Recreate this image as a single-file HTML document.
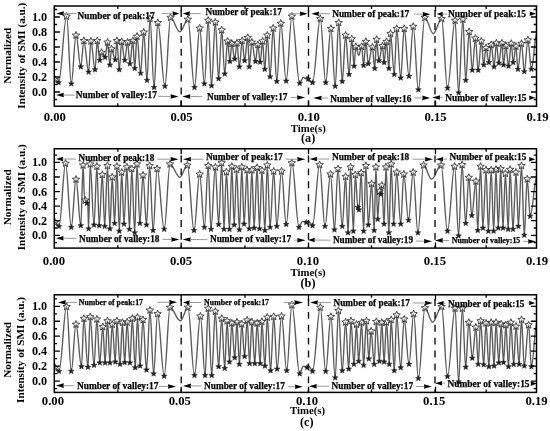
<!DOCTYPE html>
<html><head><meta charset="utf-8"><title>SMI peaks and valleys</title>
<style>
html,body{margin:0;padding:0;background:#fff;}
body{width:550px;height:431px;overflow:hidden;}
svg{display:block;}
text{font-family:'Liberation Serif','Times New Roman',serif;font-weight:bold;fill:#000;}
.tl{font-size:12.2px;}
.xt{font-size:12.7px;}
.tt{font-size:10.8px;}
.yl{font-size:11.2px;}
.an{stroke:#000;stroke-width:0.25px;}
</style></head><body>
<svg width="550" height="431" viewBox="0 0 550 431">
<rect width="550" height="431" fill="#fff"/>
<clipPath id="clipa"><rect x="54.3" y="6" width="482.2" height="100.2"/></clipPath>
<g clip-path="url(#clipa)">
<path d="M55,79.8C56.31,79.8 57.29,82.6 58.6,82.6C61.51,82.6 63.69,16.4 66.6,16.4C68.31,16.4 69.59,83.8 71.3,83.8C73.01,83.8 74.29,35.4 76,35.4C77.75,35.4 79.05,66.8 80.8,66.8C81.93,66.8 82.77,40.8 83.9,40.8C85.61,40.8 86.89,72 88.6,72C89.44,72 90.06,41.3 90.9,41.3C92.39,41.3 93.51,69.6 95,69.6C95.84,69.6 96.46,40.8 97.3,40.8C98.17,40.8 98.83,60.2 99.7,60.2C100.39,60.2 100.91,52.6 101.6,52.6C102.87,52.6 103.83,57.3 105.1,57.3C105.97,57.3 106.63,42.4 107.5,42.4C108.37,42.4 109.03,64.9 109.9,64.9C110.48,64.9 110.92,49.1 111.5,49.1C112.88,49.1 113.92,59.7 115.3,59.7C115.88,59.7 116.32,40.8 116.9,40.8C117.77,40.8 118.43,69.6 119.3,69.6C120.17,69.6 120.83,41.8 121.7,41.8C122.79,41.8 123.61,60.2 124.7,60.2C125.76,60.2 126.54,42.4 127.6,42.4C128.44,42.4 129.06,63.7 129.9,63.7C130.96,63.7 131.74,40.8 132.8,40.8C133.49,40.8 134.01,68.4 134.7,68.4C135.54,68.4 136.16,36.5 137,36.5C138.31,36.5 139.29,73.2 140.6,73.2C141.73,73.2 142.57,32.3 143.7,32.3C144.9,32.3 145.8,80.3 147,80.3C148.09,80.3 148.91,18.8 150,18.8C151.49,18.8 152.61,87.4 154.1,87.4C155.45,87.4 156.45,22.8 157.8,22.8C160.39,22.8 162.31,86.2 164.9,86.2C166.98,86.2 168.52,17.6 170.6,17.6C173.95,17.6 176.45,31.8 179.8,31.8C182.75,31.8 184.95,19.5 187.9,19.5C190.3,19.5 192.1,87.4 194.5,87.4C196.39,87.4 197.81,28.3 199.7,28.3C201.41,28.3 202.69,83.8 204.4,83.8C205.78,83.8 206.82,20.5 208.2,20.5C209.4,20.5 210.3,85.7 211.5,85.7C212.88,85.7 213.92,22.3 215.3,22.3C216.5,22.3 217.4,78.6 218.6,78.6C219.73,78.6 220.57,30.1 221.7,30.1C222.79,30.1 223.61,73.9 224.7,73.9C225.76,73.9 226.54,41.3 227.6,41.3C228.44,41.3 229.06,61.4 229.9,61.4C230.59,61.4 231.11,43.6 231.8,43.6C232.86,43.6 233.64,59 234.7,59C235.54,59 236.16,43.2 237,43.2C237.87,43.2 238.53,66.8 239.4,66.8C240.42,66.8 241.18,40.8 242.2,40.8C243.07,40.8 243.73,60.6 244.6,60.6C245.73,60.6 246.57,37.7 247.7,37.7C248.28,37.7 248.72,66.8 249.3,66.8C250.25,66.8 250.95,42.4 251.9,42.4C253.21,42.4 254.19,61.4 255.5,61.4C256.34,61.4 256.96,44.8 257.8,44.8C258.67,44.8 259.33,62.1 260.2,62.1C261.07,62.1 261.73,41.3 262.6,41.3C263.36,41.3 263.94,69.2 264.7,69.2C265.65,69.2 266.35,35.4 267.3,35.4C268.32,35.4 269.08,76.7 270.1,76.7C271.23,76.7 272.07,28.3 273.2,28.3C274.51,28.3 275.49,81.4 276.8,81.4C278.26,81.4 279.34,23.5 280.8,23.5C282.77,23.5 284.23,81 286.2,81C288.28,81 289.82,16.4 291.9,16.4C294.74,16.4 296.86,83.3 299.7,83.3C301.05,83.3 302.05,77.1 303.4,77.1C304.09,77.1 304.61,78.8 305.3,78.8C305.92,78.8 306.38,76.8 307,76.8C307.44,76.8 307.76,79 308.2,79C309.77,79 310.93,82.6 312.5,82.6C315.34,82.6 317.46,18.8 320.3,18.8C322.27,18.8 323.73,82.6 325.7,82.6C327.59,82.6 329.01,28.7 330.9,28.7C332.47,28.7 333.63,86.2 335.2,86.2C336.47,86.2 337.43,22.8 338.7,22.8C340.01,22.8 340.99,81.4 342.3,81.4C343.5,81.4 344.4,35.4 345.6,35.4C346.87,35.4 347.83,74.4 349.1,74.4C350.05,74.4 350.75,38.9 351.7,38.9C352.57,38.9 353.23,66.1 354.1,66.1C354.72,66.1 355.18,46.7 355.8,46.7C356.89,46.7 357.71,55.3 358.8,55.3C359.86,55.3 360.64,46.5 361.7,46.5C362.39,46.5 362.91,65.4 363.6,65.4C364.44,65.4 365.06,41.7 365.9,41.7C366.77,41.7 367.43,63.7 368.3,63.7C369.76,63.7 370.84,47.2 372.3,47.2C373.17,47.2 373.83,68.4 374.7,68.4C375.39,68.4 375.91,39.6 376.6,39.6C377.44,39.6 378.06,60.6 378.9,60.6C380.21,60.6 381.19,46 382.5,46C383.08,46 383.52,62.5 384.1,62.5C384.97,62.5 385.63,41.7 386.5,41.7C387.37,41.7 388.03,68.4 388.9,68.4C389.48,68.4 389.92,33.7 390.5,33.7C391.88,33.7 392.92,74.4 394.3,74.4C395.17,74.4 395.83,28.7 396.7,28.7C398.16,28.7 399.24,77.9 400.7,77.9C401.97,77.9 402.93,28.7 404.2,28.7C405.95,28.7 407.25,76.2 409,76.2C410.53,76.2 411.67,26.6 413.2,26.6C415.09,26.6 416.51,89.7 418.4,89.7C420.73,89.7 422.47,17.6 424.8,17.6C427.9,17.6 430.2,33.7 433.3,33.7C436.32,33.7 438.58,18.8 441.6,18.8C443.75,18.8 445.35,88.1 447.5,88.1C450.27,88.1 452.33,20.5 455.1,20.5C456.37,20.5 457.33,92.8 458.6,92.8C460.17,92.8 461.33,19.5 462.9,19.5C463.92,19.5 464.68,80.3 465.7,80.3C466.97,80.3 467.93,31.8 469.2,31.8C470.33,31.8 471.17,70.1 472.3,70.1C473.43,70.1 474.27,38.4 475.4,38.4C476.42,38.4 477.18,70.1 478.2,70.1C479.33,70.1 480.17,41.3 481.3,41.3C482.17,41.3 482.83,64.9 483.7,64.9C484.54,64.9 485.16,47.9 486,47.9C487.06,47.9 487.84,62.5 488.9,62.5C489.74,62.5 490.36,44.8 491.2,44.8C492.26,44.8 493.04,66.8 494.1,66.8C494.94,66.8 495.56,43.2 496.4,43.2C497.27,43.2 497.93,63 498.8,63C499.93,63 500.77,43.2 501.9,43.2C502.48,43.2 502.92,64.9 503.5,64.9C504.37,64.9 505.03,46 505.9,46C506.85,46 507.55,66.1 508.5,66.1C509.52,66.1 510.28,43.6 511.3,43.6C511.99,43.6 512.51,62.5 513.2,62.5C514.22,62.5 514.98,46.5 516,46.5C516.69,46.5 517.21,69.2 517.9,69.2C519.21,69.2 520.19,43.6 521.5,43.6C522.52,43.6 523.28,71.5 524.3,71.5C525.61,71.5 526.59,40.1 527.9,40.1C529.17,40.1 530.13,69.2 531.4,69.2C533.37,69.2 534.83,32.8 536.8,32.8" fill="none" stroke="#5c5c5c" stroke-width="1.4"/>
<line x1="181.2" y1="6" x2="181.2" y2="106.2" stroke="#111" stroke-width="1.4" stroke-dasharray="6.9 6" stroke-dashoffset="8.8"/>
<line x1="308.5" y1="6" x2="308.5" y2="106.2" stroke="#111" stroke-width="1.4" stroke-dasharray="6.9 6" stroke-dashoffset="8.8"/>
<line x1="435" y1="6" x2="435" y2="106.2" stroke="#111" stroke-width="1.4" stroke-dasharray="6.9 6" stroke-dashoffset="8.8"/>
<path d="M55,75.9 L56,78.42 L58.71,78.59 L56.62,80.33 L57.29,82.96 L55,81.5 L52.71,82.96 L53.38,80.33 L51.29,78.59 L54,78.42ZM66.6,12.5 L67.6,15.02 L70.31,15.19 L68.22,16.93 L68.89,19.56 L66.6,18.1 L64.31,19.56 L64.98,16.93 L62.89,15.19 L65.6,15.02ZM76,31.5 L77,34.02 L79.71,34.19 L77.62,35.93 L78.29,38.56 L76,37.1 L73.71,38.56 L74.38,35.93 L72.29,34.19 L75,34.02ZM83.9,36.9 L84.9,39.42 L87.61,39.59 L85.52,41.33 L86.19,43.96 L83.9,42.5 L81.61,43.96 L82.28,41.33 L80.19,39.59 L82.9,39.42ZM90.9,37.4 L91.9,39.92 L94.61,40.09 L92.52,41.83 L93.19,44.46 L90.9,43 L88.61,44.46 L89.28,41.83 L87.19,40.09 L89.9,39.92ZM97.3,36.9 L98.3,39.42 L101.01,39.59 L98.92,41.33 L99.59,43.96 L97.3,42.5 L95.01,43.96 L95.68,41.33 L93.59,39.59 L96.3,39.42ZM101.6,48.7 L102.6,51.22 L105.31,51.39 L103.22,53.13 L103.89,55.76 L101.6,54.3 L99.31,55.76 L99.98,53.13 L97.89,51.39 L100.6,51.22ZM107.5,38.5 L108.5,41.02 L111.21,41.19 L109.12,42.93 L109.79,45.56 L107.5,44.1 L105.21,45.56 L105.88,42.93 L103.79,41.19 L106.5,41.02ZM111.5,45.2 L112.5,47.72 L115.21,47.89 L113.12,49.63 L113.79,52.26 L111.5,50.8 L109.21,52.26 L109.88,49.63 L107.79,47.89 L110.5,47.72ZM116.9,36.9 L117.9,39.42 L120.61,39.59 L118.52,41.33 L119.19,43.96 L116.9,42.5 L114.61,43.96 L115.28,41.33 L113.19,39.59 L115.9,39.42ZM121.7,37.9 L122.7,40.42 L125.41,40.59 L123.32,42.33 L123.99,44.96 L121.7,43.5 L119.41,44.96 L120.08,42.33 L117.99,40.59 L120.7,40.42ZM127.6,38.5 L128.6,41.02 L131.31,41.19 L129.22,42.93 L129.89,45.56 L127.6,44.1 L125.31,45.56 L125.98,42.93 L123.89,41.19 L126.6,41.02ZM132.8,36.9 L133.8,39.42 L136.51,39.59 L134.42,41.33 L135.09,43.96 L132.8,42.5 L130.51,43.96 L131.18,41.33 L129.09,39.59 L131.8,39.42ZM137,32.6 L138,35.12 L140.71,35.29 L138.62,37.03 L139.29,39.66 L137,38.2 L134.71,39.66 L135.38,37.03 L133.29,35.29 L136,35.12ZM143.7,28.4 L144.7,30.92 L147.41,31.09 L145.32,32.83 L145.99,35.46 L143.7,34 L141.41,35.46 L142.08,32.83 L139.99,31.09 L142.7,30.92ZM150,14.9 L151,17.42 L153.71,17.59 L151.62,19.33 L152.29,21.96 L150,20.5 L147.71,21.96 L148.38,19.33 L146.29,17.59 L149,17.42ZM157.8,18.9 L158.8,21.42 L161.51,21.59 L159.42,23.33 L160.09,25.96 L157.8,24.5 L155.51,25.96 L156.18,23.33 L154.09,21.59 L156.8,21.42ZM170.6,13.7 L171.6,16.22 L174.31,16.39 L172.22,18.13 L172.89,20.76 L170.6,19.3 L168.31,20.76 L168.98,18.13 L166.89,16.39 L169.6,16.22ZM187.9,15.6 L188.9,18.12 L191.61,18.29 L189.52,20.03 L190.19,22.66 L187.9,21.2 L185.61,22.66 L186.28,20.03 L184.19,18.29 L186.9,18.12ZM199.7,24.4 L200.7,26.92 L203.41,27.09 L201.32,28.83 L201.99,31.46 L199.7,30 L197.41,31.46 L198.08,28.83 L195.99,27.09 L198.7,26.92ZM208.2,16.6 L209.2,19.12 L211.91,19.29 L209.82,21.03 L210.49,23.66 L208.2,22.2 L205.91,23.66 L206.58,21.03 L204.49,19.29 L207.2,19.12ZM215.3,18.4 L216.3,20.92 L219.01,21.09 L216.92,22.83 L217.59,25.46 L215.3,24 L213.01,25.46 L213.68,22.83 L211.59,21.09 L214.3,20.92ZM221.7,26.2 L222.7,28.72 L225.41,28.89 L223.32,30.63 L223.99,33.26 L221.7,31.8 L219.41,33.26 L220.08,30.63 L217.99,28.89 L220.7,28.72ZM227.6,37.4 L228.6,39.92 L231.31,40.09 L229.22,41.83 L229.89,44.46 L227.6,43 L225.31,44.46 L225.98,41.83 L223.89,40.09 L226.6,39.92ZM231.8,39.7 L232.8,42.22 L235.51,42.39 L233.42,44.13 L234.09,46.76 L231.8,45.3 L229.51,46.76 L230.18,44.13 L228.09,42.39 L230.8,42.22ZM237,39.3 L238,41.82 L240.71,41.99 L238.62,43.73 L239.29,46.36 L237,44.9 L234.71,46.36 L235.38,43.73 L233.29,41.99 L236,41.82ZM242.2,36.9 L243.2,39.42 L245.91,39.59 L243.82,41.33 L244.49,43.96 L242.2,42.5 L239.91,43.96 L240.58,41.33 L238.49,39.59 L241.2,39.42ZM247.7,33.8 L248.7,36.32 L251.41,36.49 L249.32,38.23 L249.99,40.86 L247.7,39.4 L245.41,40.86 L246.08,38.23 L243.99,36.49 L246.7,36.32ZM251.9,38.5 L252.9,41.02 L255.61,41.19 L253.52,42.93 L254.19,45.56 L251.9,44.1 L249.61,45.56 L250.28,42.93 L248.19,41.19 L250.9,41.02ZM257.8,40.9 L258.8,43.42 L261.51,43.59 L259.42,45.33 L260.09,47.96 L257.8,46.5 L255.51,47.96 L256.18,45.33 L254.09,43.59 L256.8,43.42ZM262.6,37.4 L263.6,39.92 L266.31,40.09 L264.22,41.83 L264.89,44.46 L262.6,43 L260.31,44.46 L260.98,41.83 L258.89,40.09 L261.6,39.92ZM267.3,31.5 L268.3,34.02 L271.01,34.19 L268.92,35.93 L269.59,38.56 L267.3,37.1 L265.01,38.56 L265.68,35.93 L263.59,34.19 L266.3,34.02ZM273.2,24.4 L274.2,26.92 L276.91,27.09 L274.82,28.83 L275.49,31.46 L273.2,30 L270.91,31.46 L271.58,28.83 L269.49,27.09 L272.2,26.92ZM280.8,19.6 L281.8,22.12 L284.51,22.29 L282.42,24.03 L283.09,26.66 L280.8,25.2 L278.51,26.66 L279.18,24.03 L277.09,22.29 L279.8,22.12ZM291.9,12.5 L292.9,15.02 L295.61,15.19 L293.52,16.93 L294.19,19.56 L291.9,18.1 L289.61,19.56 L290.28,16.93 L288.19,15.19 L290.9,15.02ZM320.3,14.9 L321.3,17.42 L324.01,17.59 L321.92,19.33 L322.59,21.96 L320.3,20.5 L318.01,21.96 L318.68,19.33 L316.59,17.59 L319.3,17.42ZM330.9,24.8 L331.9,27.32 L334.61,27.49 L332.52,29.23 L333.19,31.86 L330.9,30.4 L328.61,31.86 L329.28,29.23 L327.19,27.49 L329.9,27.32ZM338.7,18.9 L339.7,21.42 L342.41,21.59 L340.32,23.33 L340.99,25.96 L338.7,24.5 L336.41,25.96 L337.08,23.33 L334.99,21.59 L337.7,21.42ZM345.6,31.5 L346.6,34.02 L349.31,34.19 L347.22,35.93 L347.89,38.56 L345.6,37.1 L343.31,38.56 L343.98,35.93 L341.89,34.19 L344.6,34.02ZM351.7,35 L352.7,37.52 L355.41,37.69 L353.32,39.43 L353.99,42.06 L351.7,40.6 L349.41,42.06 L350.08,39.43 L347.99,37.69 L350.7,37.52ZM355.8,42.8 L356.8,45.32 L359.51,45.49 L357.42,47.23 L358.09,49.86 L355.8,48.4 L353.51,49.86 L354.18,47.23 L352.09,45.49 L354.8,45.32ZM361.7,42.6 L362.7,45.12 L365.41,45.29 L363.32,47.03 L363.99,49.66 L361.7,48.2 L359.41,49.66 L360.08,47.03 L357.99,45.29 L360.7,45.12ZM365.9,37.8 L366.9,40.32 L369.61,40.49 L367.52,42.23 L368.19,44.86 L365.9,43.4 L363.61,44.86 L364.28,42.23 L362.19,40.49 L364.9,40.32ZM372.3,43.3 L373.3,45.82 L376.01,45.99 L373.92,47.73 L374.59,50.36 L372.3,48.9 L370.01,50.36 L370.68,47.73 L368.59,45.99 L371.3,45.82ZM376.6,35.7 L377.6,38.22 L380.31,38.39 L378.22,40.13 L378.89,42.76 L376.6,41.3 L374.31,42.76 L374.98,40.13 L372.89,38.39 L375.6,38.22ZM382.5,42.1 L383.5,44.62 L386.21,44.79 L384.12,46.53 L384.79,49.16 L382.5,47.7 L380.21,49.16 L380.88,46.53 L378.79,44.79 L381.5,44.62ZM386.5,37.8 L387.5,40.32 L390.21,40.49 L388.12,42.23 L388.79,44.86 L386.5,43.4 L384.21,44.86 L384.88,42.23 L382.79,40.49 L385.5,40.32ZM390.5,29.8 L391.5,32.32 L394.21,32.49 L392.12,34.23 L392.79,36.86 L390.5,35.4 L388.21,36.86 L388.88,34.23 L386.79,32.49 L389.5,32.32ZM396.7,24.8 L397.7,27.32 L400.41,27.49 L398.32,29.23 L398.99,31.86 L396.7,30.4 L394.41,31.86 L395.08,29.23 L392.99,27.49 L395.7,27.32ZM404.2,24.8 L405.2,27.32 L407.91,27.49 L405.82,29.23 L406.49,31.86 L404.2,30.4 L401.91,31.86 L402.58,29.23 L400.49,27.49 L403.2,27.32ZM413.2,22.7 L414.2,25.22 L416.91,25.39 L414.82,27.13 L415.49,29.76 L413.2,28.3 L410.91,29.76 L411.58,27.13 L409.49,25.39 L412.2,25.22ZM424.8,13.7 L425.8,16.22 L428.51,16.39 L426.42,18.13 L427.09,20.76 L424.8,19.3 L422.51,20.76 L423.18,18.13 L421.09,16.39 L423.8,16.22ZM441.6,14.9 L442.6,17.42 L445.31,17.59 L443.22,19.33 L443.89,21.96 L441.6,20.5 L439.31,21.96 L439.98,19.33 L437.89,17.59 L440.6,17.42ZM455.1,16.6 L456.1,19.12 L458.81,19.29 L456.72,21.03 L457.39,23.66 L455.1,22.2 L452.81,23.66 L453.48,21.03 L451.39,19.29 L454.1,19.12ZM462.9,15.6 L463.9,18.12 L466.61,18.29 L464.52,20.03 L465.19,22.66 L462.9,21.2 L460.61,22.66 L461.28,20.03 L459.19,18.29 L461.9,18.12ZM469.2,27.9 L470.2,30.42 L472.91,30.59 L470.82,32.33 L471.49,34.96 L469.2,33.5 L466.91,34.96 L467.58,32.33 L465.49,30.59 L468.2,30.42ZM475.4,34.5 L476.4,37.02 L479.11,37.19 L477.02,38.93 L477.69,41.56 L475.4,40.1 L473.11,41.56 L473.78,38.93 L471.69,37.19 L474.4,37.02ZM481.3,37.4 L482.3,39.92 L485.01,40.09 L482.92,41.83 L483.59,44.46 L481.3,43 L479.01,44.46 L479.68,41.83 L477.59,40.09 L480.3,39.92ZM486,44 L487,46.52 L489.71,46.69 L487.62,48.43 L488.29,51.06 L486,49.6 L483.71,51.06 L484.38,48.43 L482.29,46.69 L485,46.52ZM491.2,40.9 L492.2,43.42 L494.91,43.59 L492.82,45.33 L493.49,47.96 L491.2,46.5 L488.91,47.96 L489.58,45.33 L487.49,43.59 L490.2,43.42ZM496.4,39.3 L497.4,41.82 L500.11,41.99 L498.02,43.73 L498.69,46.36 L496.4,44.9 L494.11,46.36 L494.78,43.73 L492.69,41.99 L495.4,41.82ZM501.9,39.3 L502.9,41.82 L505.61,41.99 L503.52,43.73 L504.19,46.36 L501.9,44.9 L499.61,46.36 L500.28,43.73 L498.19,41.99 L500.9,41.82ZM505.9,42.1 L506.9,44.62 L509.61,44.79 L507.52,46.53 L508.19,49.16 L505.9,47.7 L503.61,49.16 L504.28,46.53 L502.19,44.79 L504.9,44.62ZM511.3,39.7 L512.3,42.22 L515.01,42.39 L512.92,44.13 L513.59,46.76 L511.3,45.3 L509.01,46.76 L509.68,44.13 L507.59,42.39 L510.3,42.22ZM516,42.6 L517,45.12 L519.71,45.29 L517.62,47.03 L518.29,49.66 L516,48.2 L513.71,49.66 L514.38,47.03 L512.29,45.29 L515,45.12ZM521.5,39.7 L522.5,42.22 L525.21,42.39 L523.12,44.13 L523.79,46.76 L521.5,45.3 L519.21,46.76 L519.88,44.13 L517.79,42.39 L520.5,42.22ZM527.9,36.2 L528.9,38.72 L531.61,38.89 L529.52,40.63 L530.19,43.26 L527.9,41.8 L525.61,43.26 L526.28,40.63 L524.19,38.89 L526.9,38.72Z" fill="#fff" fill-opacity="0.15" stroke="#333" stroke-width="0.9"/>
<path d="M58.6,79.6 L59.36,81.55 L61.45,81.67 L59.84,83 L60.36,85.03 L58.6,83.9 L56.84,85.03 L57.36,83 L55.75,81.67 L57.84,81.55ZM71.3,80.8 L72.06,82.75 L74.15,82.87 L72.54,84.2 L73.06,86.23 L71.3,85.1 L69.54,86.23 L70.06,84.2 L68.45,82.87 L70.54,82.75ZM80.8,63.8 L81.56,65.75 L83.65,65.87 L82.04,67.2 L82.56,69.23 L80.8,68.1 L79.04,69.23 L79.56,67.2 L77.95,65.87 L80.04,65.75ZM88.6,69 L89.36,70.95 L91.45,71.07 L89.84,72.4 L90.36,74.43 L88.6,73.3 L86.84,74.43 L87.36,72.4 L85.75,71.07 L87.84,70.95ZM95,66.6 L95.76,68.55 L97.85,68.67 L96.24,70 L96.76,72.03 L95,70.9 L93.24,72.03 L93.76,70 L92.15,68.67 L94.24,68.55ZM99.7,57.2 L100.46,59.15 L102.55,59.27 L100.94,60.6 L101.46,62.63 L99.7,61.5 L97.94,62.63 L98.46,60.6 L96.85,59.27 L98.94,59.15ZM105.1,54.3 L105.86,56.25 L107.95,56.37 L106.34,57.7 L106.86,59.73 L105.1,58.6 L103.34,59.73 L103.86,57.7 L102.25,56.37 L104.34,56.25ZM109.9,61.9 L110.66,63.85 L112.75,63.97 L111.14,65.3 L111.66,67.33 L109.9,66.2 L108.14,67.33 L108.66,65.3 L107.05,63.97 L109.14,63.85ZM115.3,56.7 L116.06,58.65 L118.15,58.77 L116.54,60.1 L117.06,62.13 L115.3,61 L113.54,62.13 L114.06,60.1 L112.45,58.77 L114.54,58.65ZM119.3,66.6 L120.06,68.55 L122.15,68.67 L120.54,70 L121.06,72.03 L119.3,70.9 L117.54,72.03 L118.06,70 L116.45,68.67 L118.54,68.55ZM124.7,57.2 L125.46,59.15 L127.55,59.27 L125.94,60.6 L126.46,62.63 L124.7,61.5 L122.94,62.63 L123.46,60.6 L121.85,59.27 L123.94,59.15ZM129.9,60.7 L130.66,62.65 L132.75,62.77 L131.14,64.1 L131.66,66.13 L129.9,65 L128.14,66.13 L128.66,64.1 L127.05,62.77 L129.14,62.65ZM134.7,65.4 L135.46,67.35 L137.55,67.47 L135.94,68.8 L136.46,70.83 L134.7,69.7 L132.94,70.83 L133.46,68.8 L131.85,67.47 L133.94,67.35ZM140.6,70.2 L141.36,72.15 L143.45,72.27 L141.84,73.6 L142.36,75.63 L140.6,74.5 L138.84,75.63 L139.36,73.6 L137.75,72.27 L139.84,72.15ZM147,77.3 L147.76,79.25 L149.85,79.37 L148.24,80.7 L148.76,82.73 L147,81.6 L145.24,82.73 L145.76,80.7 L144.15,79.37 L146.24,79.25ZM154.1,84.4 L154.86,86.35 L156.95,86.47 L155.34,87.8 L155.86,89.83 L154.1,88.7 L152.34,89.83 L152.86,87.8 L151.25,86.47 L153.34,86.35ZM164.9,83.2 L165.66,85.15 L167.75,85.27 L166.14,86.6 L166.66,88.63 L164.9,87.5 L163.14,88.63 L163.66,86.6 L162.05,85.27 L164.14,85.15ZM194.5,84.4 L195.26,86.35 L197.35,86.47 L195.74,87.8 L196.26,89.83 L194.5,88.7 L192.74,89.83 L193.26,87.8 L191.65,86.47 L193.74,86.35ZM204.4,80.8 L205.16,82.75 L207.25,82.87 L205.64,84.2 L206.16,86.23 L204.4,85.1 L202.64,86.23 L203.16,84.2 L201.55,82.87 L203.64,82.75ZM211.5,82.7 L212.26,84.65 L214.35,84.77 L212.74,86.1 L213.26,88.13 L211.5,87 L209.74,88.13 L210.26,86.1 L208.65,84.77 L210.74,84.65ZM218.6,75.6 L219.36,77.55 L221.45,77.67 L219.84,79 L220.36,81.03 L218.6,79.9 L216.84,81.03 L217.36,79 L215.75,77.67 L217.84,77.55ZM224.7,70.9 L225.46,72.85 L227.55,72.97 L225.94,74.3 L226.46,76.33 L224.7,75.2 L222.94,76.33 L223.46,74.3 L221.85,72.97 L223.94,72.85ZM229.9,58.4 L230.66,60.35 L232.75,60.47 L231.14,61.8 L231.66,63.83 L229.9,62.7 L228.14,63.83 L228.66,61.8 L227.05,60.47 L229.14,60.35ZM234.7,56 L235.46,57.95 L237.55,58.07 L235.94,59.4 L236.46,61.43 L234.7,60.3 L232.94,61.43 L233.46,59.4 L231.85,58.07 L233.94,57.95ZM239.4,63.8 L240.16,65.75 L242.25,65.87 L240.64,67.2 L241.16,69.23 L239.4,68.1 L237.64,69.23 L238.16,67.2 L236.55,65.87 L238.64,65.75ZM244.6,57.6 L245.36,59.55 L247.45,59.67 L245.84,61 L246.36,63.03 L244.6,61.9 L242.84,63.03 L243.36,61 L241.75,59.67 L243.84,59.55ZM249.3,63.8 L250.06,65.75 L252.15,65.87 L250.54,67.2 L251.06,69.23 L249.3,68.1 L247.54,69.23 L248.06,67.2 L246.45,65.87 L248.54,65.75ZM255.5,58.4 L256.26,60.35 L258.35,60.47 L256.74,61.8 L257.26,63.83 L255.5,62.7 L253.74,63.83 L254.26,61.8 L252.65,60.47 L254.74,60.35ZM260.2,59.1 L260.96,61.05 L263.05,61.17 L261.44,62.5 L261.96,64.53 L260.2,63.4 L258.44,64.53 L258.96,62.5 L257.35,61.17 L259.44,61.05ZM264.7,66.2 L265.46,68.15 L267.55,68.27 L265.94,69.6 L266.46,71.63 L264.7,70.5 L262.94,71.63 L263.46,69.6 L261.85,68.27 L263.94,68.15ZM270.1,73.7 L270.86,75.65 L272.95,75.77 L271.34,77.1 L271.86,79.13 L270.1,78 L268.34,79.13 L268.86,77.1 L267.25,75.77 L269.34,75.65ZM276.8,78.4 L277.56,80.35 L279.65,80.47 L278.04,81.8 L278.56,83.83 L276.8,82.7 L275.04,83.83 L275.56,81.8 L273.95,80.47 L276.04,80.35ZM286.2,78 L286.96,79.95 L289.05,80.07 L287.44,81.4 L287.96,83.43 L286.2,82.3 L284.44,83.43 L284.96,81.4 L283.35,80.07 L285.44,79.95ZM299.7,80.3 L300.46,82.25 L302.55,82.37 L300.94,83.7 L301.46,85.73 L299.7,84.6 L297.94,85.73 L298.46,83.7 L296.85,82.37 L298.94,82.25ZM308.2,76 L308.96,77.95 L311.05,78.07 L309.44,79.4 L309.96,81.43 L308.2,80.3 L306.44,81.43 L306.96,79.4 L305.35,78.07 L307.44,77.95ZM312.5,79.6 L313.26,81.55 L315.35,81.67 L313.74,83 L314.26,85.03 L312.5,83.9 L310.74,85.03 L311.26,83 L309.65,81.67 L311.74,81.55ZM325.7,79.6 L326.46,81.55 L328.55,81.67 L326.94,83 L327.46,85.03 L325.7,83.9 L323.94,85.03 L324.46,83 L322.85,81.67 L324.94,81.55ZM335.2,83.2 L335.96,85.15 L338.05,85.27 L336.44,86.6 L336.96,88.63 L335.2,87.5 L333.44,88.63 L333.96,86.6 L332.35,85.27 L334.44,85.15ZM342.3,78.4 L343.06,80.35 L345.15,80.47 L343.54,81.8 L344.06,83.83 L342.3,82.7 L340.54,83.83 L341.06,81.8 L339.45,80.47 L341.54,80.35ZM349.1,71.4 L349.86,73.35 L351.95,73.47 L350.34,74.8 L350.86,76.83 L349.1,75.7 L347.34,76.83 L347.86,74.8 L346.25,73.47 L348.34,73.35ZM354.1,63.1 L354.86,65.05 L356.95,65.17 L355.34,66.5 L355.86,68.53 L354.1,67.4 L352.34,68.53 L352.86,66.5 L351.25,65.17 L353.34,65.05ZM363.6,62.4 L364.36,64.35 L366.45,64.47 L364.84,65.8 L365.36,67.83 L363.6,66.7 L361.84,67.83 L362.36,65.8 L360.75,64.47 L362.84,64.35ZM368.3,60.7 L369.06,62.65 L371.15,62.77 L369.54,64.1 L370.06,66.13 L368.3,65 L366.54,66.13 L367.06,64.1 L365.45,62.77 L367.54,62.65ZM374.7,65.4 L375.46,67.35 L377.55,67.47 L375.94,68.8 L376.46,70.83 L374.7,69.7 L372.94,70.83 L373.46,68.8 L371.85,67.47 L373.94,67.35ZM378.9,57.6 L379.66,59.55 L381.75,59.67 L380.14,61 L380.66,63.03 L378.9,61.9 L377.14,63.03 L377.66,61 L376.05,59.67 L378.14,59.55ZM384.1,59.5 L384.86,61.45 L386.95,61.57 L385.34,62.9 L385.86,64.93 L384.1,63.8 L382.34,64.93 L382.86,62.9 L381.25,61.57 L383.34,61.45ZM388.9,65.4 L389.66,67.35 L391.75,67.47 L390.14,68.8 L390.66,70.83 L388.9,69.7 L387.14,70.83 L387.66,68.8 L386.05,67.47 L388.14,67.35ZM394.3,71.4 L395.06,73.35 L397.15,73.47 L395.54,74.8 L396.06,76.83 L394.3,75.7 L392.54,76.83 L393.06,74.8 L391.45,73.47 L393.54,73.35ZM400.7,74.9 L401.46,76.85 L403.55,76.97 L401.94,78.3 L402.46,80.33 L400.7,79.2 L398.94,80.33 L399.46,78.3 L397.85,76.97 L399.94,76.85ZM409,73.2 L409.76,75.15 L411.85,75.27 L410.24,76.6 L410.76,78.63 L409,77.5 L407.24,78.63 L407.76,76.6 L406.15,75.27 L408.24,75.15ZM418.4,86.7 L419.16,88.65 L421.25,88.77 L419.64,90.1 L420.16,92.13 L418.4,91 L416.64,92.13 L417.16,90.1 L415.55,88.77 L417.64,88.65ZM447.5,85.1 L448.26,87.05 L450.35,87.17 L448.74,88.5 L449.26,90.53 L447.5,89.4 L445.74,90.53 L446.26,88.5 L444.65,87.17 L446.74,87.05ZM458.6,89.8 L459.36,91.75 L461.45,91.87 L459.84,93.2 L460.36,95.23 L458.6,94.1 L456.84,95.23 L457.36,93.2 L455.75,91.87 L457.84,91.75ZM465.7,77.3 L466.46,79.25 L468.55,79.37 L466.94,80.7 L467.46,82.73 L465.7,81.6 L463.94,82.73 L464.46,80.7 L462.85,79.37 L464.94,79.25ZM472.3,67.1 L473.06,69.05 L475.15,69.17 L473.54,70.5 L474.06,72.53 L472.3,71.4 L470.54,72.53 L471.06,70.5 L469.45,69.17 L471.54,69.05ZM478.2,67.1 L478.96,69.05 L481.05,69.17 L479.44,70.5 L479.96,72.53 L478.2,71.4 L476.44,72.53 L476.96,70.5 L475.35,69.17 L477.44,69.05ZM483.7,61.9 L484.46,63.85 L486.55,63.97 L484.94,65.3 L485.46,67.33 L483.7,66.2 L481.94,67.33 L482.46,65.3 L480.85,63.97 L482.94,63.85ZM488.9,59.5 L489.66,61.45 L491.75,61.57 L490.14,62.9 L490.66,64.93 L488.9,63.8 L487.14,64.93 L487.66,62.9 L486.05,61.57 L488.14,61.45ZM494.1,63.8 L494.86,65.75 L496.95,65.87 L495.34,67.2 L495.86,69.23 L494.1,68.1 L492.34,69.23 L492.86,67.2 L491.25,65.87 L493.34,65.75ZM498.8,60 L499.56,61.95 L501.65,62.07 L500.04,63.4 L500.56,65.43 L498.8,64.3 L497.04,65.43 L497.56,63.4 L495.95,62.07 L498.04,61.95ZM503.5,61.9 L504.26,63.85 L506.35,63.97 L504.74,65.3 L505.26,67.33 L503.5,66.2 L501.74,67.33 L502.26,65.3 L500.65,63.97 L502.74,63.85ZM508.5,63.1 L509.26,65.05 L511.35,65.17 L509.74,66.5 L510.26,68.53 L508.5,67.4 L506.74,68.53 L507.26,66.5 L505.65,65.17 L507.74,65.05ZM513.2,59.5 L513.96,61.45 L516.05,61.57 L514.44,62.9 L514.96,64.93 L513.2,63.8 L511.44,64.93 L511.96,62.9 L510.35,61.57 L512.44,61.45ZM517.9,66.2 L518.66,68.15 L520.75,68.27 L519.14,69.6 L519.66,71.63 L517.9,70.5 L516.14,71.63 L516.66,69.6 L515.05,68.27 L517.14,68.15ZM524.3,68.5 L525.06,70.45 L527.15,70.57 L525.54,71.9 L526.06,73.93 L524.3,72.8 L522.54,73.93 L523.06,71.9 L521.45,70.57 L523.54,70.45ZM531.4,66.2 L532.16,68.15 L534.25,68.27 L532.64,69.6 L533.16,71.63 L531.4,70.5 L529.64,71.63 L530.16,69.6 L528.55,68.27 L530.64,68.15Z" fill="#222" stroke="#222" stroke-width="0.5"/>
</g>
<path d="M63.9,13.5L76.6,13.52M161.6,13.59L172.5,13.6" stroke="#999" stroke-width="1" fill="none"/>
<path d="M56.3,13.5 L63.9,11.2 Q63.1,13.5 63.9,15.8Z" fill="#000"/>
<path d="M179.4,13.6 L172.5,11.3 Q173.3,13.6 172.5,15.9Z" fill="#000"/>
<text x="77.6" y="18.7" textLength="77" lengthAdjust="spacingAndGlyphs" class="an" style="font-size:9.79px">Number of peak:17</text>
<path d="M190,13.6L200.7,13.61M288.8,13.68L299.8,13.7" stroke="#999" stroke-width="1" fill="none"/>
<path d="M182.6,13.6 L190,11.3 Q189.2,13.6 190,15.9Z" fill="#000"/>
<path d="M307.7,13.7 L299.8,11.4 Q300.6,13.7 299.8,16Z" fill="#000"/>
<text x="205.5" y="15.2" textLength="76.3" lengthAdjust="spacingAndGlyphs" class="an" style="font-size:9.7px">Number of peak:17</text>
<path d="M319.1,13.7L330.2,13.78M413.6,14.13L422.6,14.2" stroke="#999" stroke-width="1" fill="none"/>
<path d="M311.3,13.7 L319.1,11.4 Q318.3,13.7 319.1,16Z" fill="#000"/>
<path d="M430.4,14.2 L422.6,11.9 Q423.4,14.2 422.6,16.5Z" fill="#000"/>
<text x="332.2" y="17.4" textLength="77.1" lengthAdjust="spacingAndGlyphs" class="an" style="font-size:9.8px">Number of peak:17</text>
<path d="M442.9,14L447.4,13.97M529,13.72L529.6,13.7" stroke="#999" stroke-width="1" fill="none"/>
<path d="M436.6,14 L442.9,11.7 Q442.1,14 442.9,16.3Z" fill="#000"/>
<path d="M536,13.7 L529.6,11.4 Q530.4,13.7 529.6,16Z" fill="#000"/>
<text x="448" y="16.5" textLength="78" lengthAdjust="spacingAndGlyphs" class="an" style="font-size:9.92px">Number of peak:15</text>
<path d="M63.9,95L74.8,95.23M158.1,96.25L170.5,96.5" stroke="#999" stroke-width="1" fill="none"/>
<path d="M56,95 L63.9,92.7 Q63.1,95 63.9,97.3Z" fill="#000"/>
<path d="M178.6,96.5 L170.5,94.2 Q171.3,96.5 170.5,98.8Z" fill="#000"/>
<text x="75.8" y="97.8" textLength="81.1" lengthAdjust="spacingAndGlyphs" class="an" style="font-size:9.78px">Number of valley:17</text>
<path d="M190.4,96.5L202.2,96.66M290.4,97.38L296.9,97.5" stroke="#999" stroke-width="1" fill="none"/>
<path d="M182.2,96.5 L190.4,94.2 Q189.6,96.5 190.4,98.8Z" fill="#000"/>
<path d="M305.1,97.5 L296.9,95.2 Q297.7,97.5 296.9,99.8Z" fill="#000"/>
<text x="207" y="99.6" textLength="80.4" lengthAdjust="spacingAndGlyphs" class="an" style="font-size:9.7px">Number of valley:17</text>
<path d="M321.7,98L327.7,97.99M414.4,97.91L422.2,97.9" stroke="#999" stroke-width="1" fill="none"/>
<path d="M313.2,98 L321.7,95.7 Q320.9,98 321.7,100.3Z" fill="#000"/>
<path d="M430.1,97.9 L422.2,95.6 Q423,97.9 422.2,100.2Z" fill="#000"/>
<text x="330.2" y="101.8" textLength="81.2" lengthAdjust="spacingAndGlyphs" class="an" style="font-size:9.8px">Number of valley:16</text>
<path d="M440.2,97.5L442.7,97.52M529.5,97.69L529,97.7" stroke="#999" stroke-width="1" fill="none"/>
<path d="M432,97.5 L440.2,95.2 Q439.4,97.5 440.2,99.8Z" fill="#000"/>
<path d="M535.2,97.7 L529,95.4 Q529.8,97.7 529,100Z" fill="#000"/>
<text x="445.2" y="100.7" textLength="81.3" lengthAdjust="spacingAndGlyphs" class="an" style="font-size:9.81px">Number of valley:15</text>
<rect x="54.3" y="6" width="482.2" height="100.2" fill="none" stroke="#000" stroke-width="1.5"/>
<path d="M54.3,99.5h2.8M536.5,99.5h-2.8M54.3,92h5.6M536.5,92h-5.6M54.3,84.5h2.8M536.5,84.5h-2.8M54.3,77h5.6M536.5,77h-5.6M54.3,69.5h2.8M536.5,69.5h-2.8M54.3,62h5.6M536.5,62h-5.6M54.3,54.5h2.8M536.5,54.5h-2.8M54.3,47h5.6M536.5,47h-5.6M54.3,39.5h2.8M536.5,39.5h-2.8M54.3,32h5.6M536.5,32h-5.6M54.3,24.5h2.8M536.5,24.5h-2.8M54.3,17h5.6M536.5,17h-5.6M54.3,9.5h2.8M536.5,9.5h-2.8M181.2,106.2v-5.6M181.2,6v5.6M308.5,106.2v-5.6M308.5,6v5.6M435.5,106.2v-5.6M435.5,6v5.6M117.8,106.2v-2.9M117.8,6v2.9M245,106.2v-2.9M245,6v2.9M371.5,106.2v-2.9M371.5,6v2.9M486.2,106.2v-2.9M486.2,6v2.9" stroke="#000" stroke-width="1.3" fill="none"/>
<text x="47.2" y="96" text-anchor="end" class="tl">0.0</text>
<text x="47.2" y="81" text-anchor="end" class="tl">0.2</text>
<text x="47.2" y="66" text-anchor="end" class="tl">0.4</text>
<text x="47.2" y="51" text-anchor="end" class="tl">0.6</text>
<text x="47.2" y="36" text-anchor="end" class="tl">0.8</text>
<text x="47.2" y="21" text-anchor="end" class="tl">1.0</text>
<text x="54.75" y="121.3" text-anchor="middle" class="xt">0.00</text>
<text x="181.6" y="121.3" text-anchor="middle" class="xt">0.05</text>
<text x="308.75" y="121.3" text-anchor="middle" class="xt">0.10</text>
<text x="435.6" y="121.3" text-anchor="middle" class="xt">0.15</text>
<text x="537.6" y="121.3" text-anchor="middle" class="xt">0.19</text>
<text x="308.3" y="131.6" text-anchor="middle" class="tt">Time(s)</text>
<text x="308.1" y="142.2" text-anchor="middle" class="tl">(a)</text>
<text transform="translate(10.8,55.7) rotate(-90)" text-anchor="middle" class="yl">Normalized</text>
<text transform="translate(25,55.7) rotate(-90)" text-anchor="middle" class="yl">Intensity of SMI (a.u.)</text>
<clipPath id="clipb"><rect x="54.3" y="148.75" width="482.2" height="99.35"/></clipPath>
<g clip-path="url(#clipb)">
<path d="M55,222.3C56.46,222.3 57.54,226.3 59,226.3C61.4,226.3 63.2,163.5 65.6,163.5C67.68,163.5 69.22,227.3 71.3,227.3C73.01,227.3 74.29,179.5 76,179.5C77.75,179.5 79.05,225.6 80.8,225.6C81.64,225.6 82.26,165.3 83.1,165.3C83.61,165.3 83.99,198.8 84.5,198.8C84.79,198.8 85.01,200.3 85.3,200.3C85.88,200.3 86.32,203.3 86.9,203.3C87.19,203.3 87.41,201.8 87.7,201.8C88.03,201.8 88.27,228.7 88.6,228.7C89.18,228.7 89.62,164.2 90.2,164.2C91.58,164.2 92.62,224.9 94,224.9C95.06,224.9 95.84,166.5 96.9,166.5C97.74,166.5 98.36,225.6 99.2,225.6C100.33,225.6 101.17,174.8 102.3,174.8C103.17,174.8 103.83,226.3 104.7,226.3C105.72,226.3 106.48,165.8 107.5,165.8C108.37,165.8 109.03,228.7 109.9,228.7C110.74,228.7 111.36,177.2 112.2,177.2C113.07,177.2 113.73,223.3 114.6,223.3C115.44,223.3 116.06,166.5 116.9,166.5C117.77,166.5 118.43,231.1 119.3,231.1C120.17,231.1 120.83,172.4 121.7,172.4C122.54,172.4 123.16,224 124,224C125.06,224 125.84,167.2 126.9,167.2C127.85,167.2 128.55,229.2 129.5,229.2C130.34,229.2 130.96,168.9 131.8,168.9C132.86,168.9 133.64,232.7 134.7,232.7C135.54,232.7 136.16,164.2 137,164.2C138.06,164.2 138.84,223.3 139.9,223.3C141.03,223.3 141.87,175.3 143,175.3C144.27,175.3 145.23,224.9 146.5,224.9C147.63,224.9 148.47,165.8 149.6,165.8C150.87,165.8 151.83,230.4 153.1,230.4C154.56,230.4 155.64,168.9 157.1,168.9C159.69,168.9 161.61,229.2 164.2,229.2C166.35,229.2 167.95,164.2 170.1,164.2C173.63,164.2 176.27,177.3 179.8,177.3C182.57,177.3 184.63,165.3 187.4,165.3C189.8,165.3 191.6,230.4 194,230.4C196.08,230.4 197.62,174.3 199.7,174.3C201.41,174.3 202.69,227.3 204.4,227.3C205.78,227.3 206.82,165.8 208.2,165.8C209.22,165.8 209.98,229.2 211,229.2C212.57,229.2 213.73,167.2 215.3,167.2C216.5,167.2 217.4,224.4 218.6,224.4C219.73,224.4 220.57,163 221.7,163C222.54,163 223.16,229.2 224,229.2C224.87,229.2 225.53,172 226.4,172C227.53,172 228.37,229.2 229.5,229.2C230.34,229.2 230.96,166.5 231.8,166.5C232.67,166.5 233.33,224.9 234.2,224.9C235.07,224.9 235.73,169.6 236.6,169.6C237.62,169.6 238.38,229.7 239.4,229.7C240.27,229.7 240.93,167.2 241.8,167.2C242.64,167.2 243.26,224 244.1,224C245.16,224 245.94,170.1 247,170.1C247.84,170.1 248.46,228.7 249.3,228.7C250.25,228.7 250.95,170.1 251.9,170.1C252.7,170.1 253.3,228 254.1,228C255.19,228 256.01,167.7 257.1,167.7C257.97,167.7 258.63,228.7 259.5,228.7C260.37,228.7 261.03,170.5 261.9,170.5C262.99,170.5 263.81,230.4 264.9,230.4C265.77,230.4 266.43,165.3 267.3,165.3C268.32,165.3 269.08,227.3 270.1,227.3C271.41,227.3 272.39,171.3 273.7,171.3C274.83,171.3 275.67,226.3 276.8,226.3C278.51,226.3 279.79,171.3 281.5,171.3C283.21,171.3 284.49,224.4 286.2,224.4C288.28,224.4 289.82,163 291.9,163C294.49,163 296.41,227.3 299,227.3C300.27,227.3 301.23,221.4 302.5,221.4C303.88,221.4 304.92,222.4 306.3,222.4C307.21,222.4 307.89,221.7 308.8,221.7C310.15,221.7 311.15,225.6 312.5,225.6C315.09,225.6 317.01,164.9 319.6,164.9C321.57,164.9 323.03,226.3 325,226.3C327,226.3 328.5,174.3 330.5,174.3C331.96,174.3 333.04,229.7 334.5,229.7C335.77,229.7 336.73,168.9 338,168.9C339.57,168.9 340.73,226.3 342.3,226.3C343.5,226.3 344.4,176.7 345.6,176.7C346.47,176.7 347.13,232.7 348,232.7C348.95,232.7 349.65,167.2 350.6,167.2C351.62,167.2 352.38,231.1 353.4,231.1C354.09,231.1 354.61,174.8 355.3,174.8C356.25,174.8 356.95,207.3 357.9,207.3C358.26,207.3 358.54,209.8 358.9,209.8C359.74,209.8 360.36,172.9 361.2,172.9C362.07,172.9 362.73,231.1 363.6,231.1C364.44,231.1 365.06,165.8 365.9,165.8C366.77,165.8 367.43,224.9 368.3,224.9C369.5,224.9 370.4,183.8 371.6,183.8C372.55,183.8 373.25,230.4 374.2,230.4C374.82,230.4 375.28,167.2 375.9,167.2C376.56,167.2 377.04,219.2 377.7,219.2C378.39,219.2 378.91,191.3 379.6,191.3C380.04,191.3 380.36,194.3 380.8,194.3C381.16,194.3 381.44,185.4 381.8,185.4C382.64,185.4 383.26,224 384.1,224C384.79,224 385.31,167.2 386,167.2C387.06,167.2 387.84,232.7 388.9,232.7C389.74,232.7 390.36,164.2 391.2,164.2C392.07,164.2 392.73,224 393.6,224C394.73,224 395.57,172.4 396.7,172.4C398.16,172.4 399.24,224 400.7,224C401.83,224 402.67,174.3 403.8,174.3C405.51,174.3 406.79,220.2 408.5,220.2C410.21,220.2 411.49,172.4 413.2,172.4C414.91,172.4 416.19,232.7 417.9,232.7C419.98,232.7 421.52,165.3 423.6,165.3C426.51,165.3 428.69,179.1 431.6,179.1C435.06,179.1 437.64,165.3 441.1,165.3C443.43,165.3 445.17,231.1 447.5,231.1C450.09,231.1 452.01,166.5 454.6,166.5C456.06,166.5 457.14,235.8 458.6,235.8C459.87,235.8 460.83,164.9 462.1,164.9C463.41,164.9 464.39,223.3 465.7,223.3C466.83,223.3 467.67,177.6 468.8,177.6C469.89,177.6 470.71,215.5 471.8,215.5C473.29,215.5 474.41,181.4 475.9,181.4C476.56,181.4 477.04,230.4 477.7,230.4C478.76,230.4 479.54,166.5 480.6,166.5C481.44,166.5 482.06,228 482.9,228C484.03,228 484.87,170.1 486,170.1C486.87,170.1 487.53,231.1 488.4,231.1C489.42,231.1 490.18,170.1 491.2,170.1C492.07,170.1 492.73,231.1 493.6,231.1C494.47,231.1 495.13,169.6 496,169.6C496.84,169.6 497.46,228 498.3,228C499.17,228 499.83,168.9 500.7,168.9C501.54,168.9 502.16,228 503,228C503.87,228 504.53,173.6 505.4,173.6C506.42,173.6 507.18,229.2 508.2,229.2C508.89,229.2 509.41,169.6 510.1,169.6C511.16,169.6 511.94,229.2 513,229.2C514.09,229.2 514.91,172.4 516,172.4C516.87,172.4 517.53,226.3 518.4,226.3C519.53,226.3 520.37,165.8 521.5,165.8C522.52,165.8 523.28,235.1 524.3,235.1C525.36,235.1 526.14,179.1 527.2,179.1C528.29,179.1 529.11,216.2 530.2,216.2C532.6,216.2 534.4,176.8 536.8,176.8" fill="none" stroke="#5c5c5c" stroke-width="1.4"/>
<line x1="181.2" y1="148.75" x2="181.2" y2="248.1" stroke="#111" stroke-width="1.4" stroke-dasharray="6.9 6" stroke-dashoffset="6.15"/>
<line x1="308.5" y1="148.75" x2="308.5" y2="248.1" stroke="#111" stroke-width="1.4" stroke-dasharray="6.9 6" stroke-dashoffset="6.15"/>
<line x1="435" y1="148.75" x2="435" y2="248.1" stroke="#111" stroke-width="1.4" stroke-dasharray="6.9 6" stroke-dashoffset="6.15"/>
<path d="M55,218.4 L56,220.92 L58.71,221.09 L56.62,222.83 L57.29,225.46 L55,224 L52.71,225.46 L53.38,222.83 L51.29,221.09 L54,220.92ZM65.6,159.6 L66.6,162.12 L69.31,162.29 L67.22,164.03 L67.89,166.66 L65.6,165.2 L63.31,166.66 L63.98,164.03 L61.89,162.29 L64.6,162.12ZM76,175.6 L77,178.12 L79.71,178.29 L77.62,180.03 L78.29,182.66 L76,181.2 L73.71,182.66 L74.38,180.03 L72.29,178.29 L75,178.12ZM83.1,161.4 L84.1,163.92 L86.81,164.09 L84.72,165.83 L85.39,168.46 L83.1,167 L80.81,168.46 L81.48,165.83 L79.39,164.09 L82.1,163.92ZM85.3,196.4 L86.3,198.92 L89.01,199.09 L86.92,200.83 L87.59,203.46 L85.3,202 L83.01,203.46 L83.68,200.83 L81.59,199.09 L84.3,198.92ZM90.2,160.3 L91.2,162.82 L93.91,162.99 L91.82,164.73 L92.49,167.36 L90.2,165.9 L87.91,167.36 L88.58,164.73 L86.49,162.99 L89.2,162.82ZM96.9,162.6 L97.9,165.12 L100.61,165.29 L98.52,167.03 L99.19,169.66 L96.9,168.2 L94.61,169.66 L95.28,167.03 L93.19,165.29 L95.9,165.12ZM102.3,170.9 L103.3,173.42 L106.01,173.59 L103.92,175.33 L104.59,177.96 L102.3,176.5 L100.01,177.96 L100.68,175.33 L98.59,173.59 L101.3,173.42ZM107.5,161.9 L108.5,164.42 L111.21,164.59 L109.12,166.33 L109.79,168.96 L107.5,167.5 L105.21,168.96 L105.88,166.33 L103.79,164.59 L106.5,164.42ZM112.2,173.3 L113.2,175.82 L115.91,175.99 L113.82,177.73 L114.49,180.36 L112.2,178.9 L109.91,180.36 L110.58,177.73 L108.49,175.99 L111.2,175.82ZM116.9,162.6 L117.9,165.12 L120.61,165.29 L118.52,167.03 L119.19,169.66 L116.9,168.2 L114.61,169.66 L115.28,167.03 L113.19,165.29 L115.9,165.12ZM121.7,168.5 L122.7,171.02 L125.41,171.19 L123.32,172.93 L123.99,175.56 L121.7,174.1 L119.41,175.56 L120.08,172.93 L117.99,171.19 L120.7,171.02ZM126.9,163.3 L127.9,165.82 L130.61,165.99 L128.52,167.73 L129.19,170.36 L126.9,168.9 L124.61,170.36 L125.28,167.73 L123.19,165.99 L125.9,165.82ZM131.8,165 L132.8,167.52 L135.51,167.69 L133.42,169.43 L134.09,172.06 L131.8,170.6 L129.51,172.06 L130.18,169.43 L128.09,167.69 L130.8,167.52ZM137,160.3 L138,162.82 L140.71,162.99 L138.62,164.73 L139.29,167.36 L137,165.9 L134.71,167.36 L135.38,164.73 L133.29,162.99 L136,162.82ZM143,171.4 L144,173.92 L146.71,174.09 L144.62,175.83 L145.29,178.46 L143,177 L140.71,178.46 L141.38,175.83 L139.29,174.09 L142,173.92ZM149.6,161.9 L150.6,164.42 L153.31,164.59 L151.22,166.33 L151.89,168.96 L149.6,167.5 L147.31,168.96 L147.98,166.33 L145.89,164.59 L148.6,164.42ZM157.1,165 L158.1,167.52 L160.81,167.69 L158.72,169.43 L159.39,172.06 L157.1,170.6 L154.81,172.06 L155.48,169.43 L153.39,167.69 L156.1,167.52ZM170.1,160.3 L171.1,162.82 L173.81,162.99 L171.72,164.73 L172.39,167.36 L170.1,165.9 L167.81,167.36 L168.48,164.73 L166.39,162.99 L169.1,162.82ZM187.4,161.4 L188.4,163.92 L191.11,164.09 L189.02,165.83 L189.69,168.46 L187.4,167 L185.11,168.46 L185.78,165.83 L183.69,164.09 L186.4,163.92ZM199.7,170.4 L200.7,172.92 L203.41,173.09 L201.32,174.83 L201.99,177.46 L199.7,176 L197.41,177.46 L198.08,174.83 L195.99,173.09 L198.7,172.92ZM208.2,161.9 L209.2,164.42 L211.91,164.59 L209.82,166.33 L210.49,168.96 L208.2,167.5 L205.91,168.96 L206.58,166.33 L204.49,164.59 L207.2,164.42ZM215.3,163.3 L216.3,165.82 L219.01,165.99 L216.92,167.73 L217.59,170.36 L215.3,168.9 L213.01,170.36 L213.68,167.73 L211.59,165.99 L214.3,165.82ZM221.7,159.1 L222.7,161.62 L225.41,161.79 L223.32,163.53 L223.99,166.16 L221.7,164.7 L219.41,166.16 L220.08,163.53 L217.99,161.79 L220.7,161.62ZM226.4,168.1 L227.4,170.62 L230.11,170.79 L228.02,172.53 L228.69,175.16 L226.4,173.7 L224.11,175.16 L224.78,172.53 L222.69,170.79 L225.4,170.62ZM231.8,162.6 L232.8,165.12 L235.51,165.29 L233.42,167.03 L234.09,169.66 L231.8,168.2 L229.51,169.66 L230.18,167.03 L228.09,165.29 L230.8,165.12ZM236.6,165.7 L237.6,168.22 L240.31,168.39 L238.22,170.13 L238.89,172.76 L236.6,171.3 L234.31,172.76 L234.98,170.13 L232.89,168.39 L235.6,168.22ZM241.8,163.3 L242.8,165.82 L245.51,165.99 L243.42,167.73 L244.09,170.36 L241.8,168.9 L239.51,170.36 L240.18,167.73 L238.09,165.99 L240.8,165.82ZM247,166.2 L248,168.72 L250.71,168.89 L248.62,170.63 L249.29,173.26 L247,171.8 L244.71,173.26 L245.38,170.63 L243.29,168.89 L246,168.72ZM251.9,166.2 L252.9,168.72 L255.61,168.89 L253.52,170.63 L254.19,173.26 L251.9,171.8 L249.61,173.26 L250.28,170.63 L248.19,168.89 L250.9,168.72ZM257.1,163.8 L258.1,166.32 L260.81,166.49 L258.72,168.23 L259.39,170.86 L257.1,169.4 L254.81,170.86 L255.48,168.23 L253.39,166.49 L256.1,166.32ZM261.9,166.6 L262.9,169.12 L265.61,169.29 L263.52,171.03 L264.19,173.66 L261.9,172.2 L259.61,173.66 L260.28,171.03 L258.19,169.29 L260.9,169.12ZM267.3,161.4 L268.3,163.92 L271.01,164.09 L268.92,165.83 L269.59,168.46 L267.3,167 L265.01,168.46 L265.68,165.83 L263.59,164.09 L266.3,163.92ZM273.7,167.4 L274.7,169.92 L277.41,170.09 L275.32,171.83 L275.99,174.46 L273.7,173 L271.41,174.46 L272.08,171.83 L269.99,170.09 L272.7,169.92ZM281.5,167.4 L282.5,169.92 L285.21,170.09 L283.12,171.83 L283.79,174.46 L281.5,173 L279.21,174.46 L279.88,171.83 L277.79,170.09 L280.5,169.92ZM291.9,159.1 L292.9,161.62 L295.61,161.79 L293.52,163.53 L294.19,166.16 L291.9,164.7 L289.61,166.16 L290.28,163.53 L288.19,161.79 L290.9,161.62ZM319.6,161 L320.6,163.52 L323.31,163.69 L321.22,165.43 L321.89,168.06 L319.6,166.6 L317.31,168.06 L317.98,165.43 L315.89,163.69 L318.6,163.52ZM330.5,170.4 L331.5,172.92 L334.21,173.09 L332.12,174.83 L332.79,177.46 L330.5,176 L328.21,177.46 L328.88,174.83 L326.79,173.09 L329.5,172.92ZM338,165 L339,167.52 L341.71,167.69 L339.62,169.43 L340.29,172.06 L338,170.6 L335.71,172.06 L336.38,169.43 L334.29,167.69 L337,167.52ZM345.6,172.8 L346.6,175.32 L349.31,175.49 L347.22,177.23 L347.89,179.86 L345.6,178.4 L343.31,179.86 L343.98,177.23 L341.89,175.49 L344.6,175.32ZM350.6,163.3 L351.6,165.82 L354.31,165.99 L352.22,167.73 L352.89,170.36 L350.6,168.9 L348.31,170.36 L348.98,167.73 L346.89,165.99 L349.6,165.82ZM355.3,170.9 L356.3,173.42 L359.01,173.59 L356.92,175.33 L357.59,177.96 L355.3,176.5 L353.01,177.96 L353.68,175.33 L351.59,173.59 L354.3,173.42ZM361.2,169 L362.2,171.52 L364.91,171.69 L362.82,173.43 L363.49,176.06 L361.2,174.6 L358.91,176.06 L359.58,173.43 L357.49,171.69 L360.2,171.52ZM365.9,161.9 L366.9,164.42 L369.61,164.59 L367.52,166.33 L368.19,168.96 L365.9,167.5 L363.61,168.96 L364.28,166.33 L362.19,164.59 L364.9,164.42ZM371.6,179.9 L372.6,182.42 L375.31,182.59 L373.22,184.33 L373.89,186.96 L371.6,185.5 L369.31,186.96 L369.98,184.33 L367.89,182.59 L370.6,182.42ZM375.9,163.3 L376.9,165.82 L379.61,165.99 L377.52,167.73 L378.19,170.36 L375.9,168.9 L373.61,170.36 L374.28,167.73 L372.19,165.99 L374.9,165.82ZM379.6,187.4 L380.6,189.92 L383.31,190.09 L381.22,191.83 L381.89,194.46 L379.6,193 L377.31,194.46 L377.98,191.83 L375.89,190.09 L378.6,189.92ZM381.8,181.5 L382.8,184.02 L385.51,184.19 L383.42,185.93 L384.09,188.56 L381.8,187.1 L379.51,188.56 L380.18,185.93 L378.09,184.19 L380.8,184.02ZM386,163.3 L387,165.82 L389.71,165.99 L387.62,167.73 L388.29,170.36 L386,168.9 L383.71,170.36 L384.38,167.73 L382.29,165.99 L385,165.82ZM391.2,160.3 L392.2,162.82 L394.91,162.99 L392.82,164.73 L393.49,167.36 L391.2,165.9 L388.91,167.36 L389.58,164.73 L387.49,162.99 L390.2,162.82ZM396.7,168.5 L397.7,171.02 L400.41,171.19 L398.32,172.93 L398.99,175.56 L396.7,174.1 L394.41,175.56 L395.08,172.93 L392.99,171.19 L395.7,171.02ZM403.8,170.4 L404.8,172.92 L407.51,173.09 L405.42,174.83 L406.09,177.46 L403.8,176 L401.51,177.46 L402.18,174.83 L400.09,173.09 L402.8,172.92ZM413.2,168.5 L414.2,171.02 L416.91,171.19 L414.82,172.93 L415.49,175.56 L413.2,174.1 L410.91,175.56 L411.58,172.93 L409.49,171.19 L412.2,171.02ZM423.6,161.4 L424.6,163.92 L427.31,164.09 L425.22,165.83 L425.89,168.46 L423.6,167 L421.31,168.46 L421.98,165.83 L419.89,164.09 L422.6,163.92ZM441.1,161.4 L442.1,163.92 L444.81,164.09 L442.72,165.83 L443.39,168.46 L441.1,167 L438.81,168.46 L439.48,165.83 L437.39,164.09 L440.1,163.92ZM454.6,162.6 L455.6,165.12 L458.31,165.29 L456.22,167.03 L456.89,169.66 L454.6,168.2 L452.31,169.66 L452.98,167.03 L450.89,165.29 L453.6,165.12ZM462.1,161 L463.1,163.52 L465.81,163.69 L463.72,165.43 L464.39,168.06 L462.1,166.6 L459.81,168.06 L460.48,165.43 L458.39,163.69 L461.1,163.52ZM468.8,173.7 L469.8,176.22 L472.51,176.39 L470.42,178.13 L471.09,180.76 L468.8,179.3 L466.51,180.76 L467.18,178.13 L465.09,176.39 L467.8,176.22ZM475.9,177.5 L476.9,180.02 L479.61,180.19 L477.52,181.93 L478.19,184.56 L475.9,183.1 L473.61,184.56 L474.28,181.93 L472.19,180.19 L474.9,180.02ZM480.6,162.6 L481.6,165.12 L484.31,165.29 L482.22,167.03 L482.89,169.66 L480.6,168.2 L478.31,169.66 L478.98,167.03 L476.89,165.29 L479.6,165.12ZM486,166.2 L487,168.72 L489.71,168.89 L487.62,170.63 L488.29,173.26 L486,171.8 L483.71,173.26 L484.38,170.63 L482.29,168.89 L485,168.72ZM491.2,166.2 L492.2,168.72 L494.91,168.89 L492.82,170.63 L493.49,173.26 L491.2,171.8 L488.91,173.26 L489.58,170.63 L487.49,168.89 L490.2,168.72ZM496,165.7 L497,168.22 L499.71,168.39 L497.62,170.13 L498.29,172.76 L496,171.3 L493.71,172.76 L494.38,170.13 L492.29,168.39 L495,168.22ZM500.7,165 L501.7,167.52 L504.41,167.69 L502.32,169.43 L502.99,172.06 L500.7,170.6 L498.41,172.06 L499.08,169.43 L496.99,167.69 L499.7,167.52ZM505.4,169.7 L506.4,172.22 L509.11,172.39 L507.02,174.13 L507.69,176.76 L505.4,175.3 L503.11,176.76 L503.78,174.13 L501.69,172.39 L504.4,172.22ZM510.1,165.7 L511.1,168.22 L513.81,168.39 L511.72,170.13 L512.39,172.76 L510.1,171.3 L507.81,172.76 L508.48,170.13 L506.39,168.39 L509.1,168.22ZM516,168.5 L517,171.02 L519.71,171.19 L517.62,172.93 L518.29,175.56 L516,174.1 L513.71,175.56 L514.38,172.93 L512.29,171.19 L515,171.02ZM521.5,161.9 L522.5,164.42 L525.21,164.59 L523.12,166.33 L523.79,168.96 L521.5,167.5 L519.21,168.96 L519.88,166.33 L517.79,164.59 L520.5,164.42ZM527.2,175.2 L528.2,177.72 L530.91,177.89 L528.82,179.63 L529.49,182.26 L527.2,180.8 L524.91,182.26 L525.58,179.63 L523.49,177.89 L526.2,177.72Z" fill="#fff" fill-opacity="0.15" stroke="#333" stroke-width="0.9"/>
<path d="M59,223.3 L59.76,225.25 L61.85,225.37 L60.24,226.7 L60.76,228.73 L59,227.6 L57.24,228.73 L57.76,226.7 L56.15,225.37 L58.24,225.25ZM71.3,224.3 L72.06,226.25 L74.15,226.37 L72.54,227.7 L73.06,229.73 L71.3,228.6 L69.54,229.73 L70.06,227.7 L68.45,226.37 L70.54,226.25ZM80.8,222.6 L81.56,224.55 L83.65,224.67 L82.04,226 L82.56,228.03 L80.8,226.9 L79.04,228.03 L79.56,226 L77.95,224.67 L80.04,224.55ZM86.9,200.3 L87.66,202.25 L89.75,202.37 L88.14,203.7 L88.66,205.73 L86.9,204.6 L85.14,205.73 L85.66,203.7 L84.05,202.37 L86.14,202.25ZM88.6,225.7 L89.36,227.65 L91.45,227.77 L89.84,229.1 L90.36,231.13 L88.6,230 L86.84,231.13 L87.36,229.1 L85.75,227.77 L87.84,227.65ZM94,221.9 L94.76,223.85 L96.85,223.97 L95.24,225.3 L95.76,227.33 L94,226.2 L92.24,227.33 L92.76,225.3 L91.15,223.97 L93.24,223.85ZM99.2,222.6 L99.96,224.55 L102.05,224.67 L100.44,226 L100.96,228.03 L99.2,226.9 L97.44,228.03 L97.96,226 L96.35,224.67 L98.44,224.55ZM104.7,223.3 L105.46,225.25 L107.55,225.37 L105.94,226.7 L106.46,228.73 L104.7,227.6 L102.94,228.73 L103.46,226.7 L101.85,225.37 L103.94,225.25ZM109.9,225.7 L110.66,227.65 L112.75,227.77 L111.14,229.1 L111.66,231.13 L109.9,230 L108.14,231.13 L108.66,229.1 L107.05,227.77 L109.14,227.65ZM114.6,220.3 L115.36,222.25 L117.45,222.37 L115.84,223.7 L116.36,225.73 L114.6,224.6 L112.84,225.73 L113.36,223.7 L111.75,222.37 L113.84,222.25ZM119.3,228.1 L120.06,230.05 L122.15,230.17 L120.54,231.5 L121.06,233.53 L119.3,232.4 L117.54,233.53 L118.06,231.5 L116.45,230.17 L118.54,230.05ZM124,221 L124.76,222.95 L126.85,223.07 L125.24,224.4 L125.76,226.43 L124,225.3 L122.24,226.43 L122.76,224.4 L121.15,223.07 L123.24,222.95ZM129.5,226.2 L130.26,228.15 L132.35,228.27 L130.74,229.6 L131.26,231.63 L129.5,230.5 L127.74,231.63 L128.26,229.6 L126.65,228.27 L128.74,228.15ZM134.7,229.7 L135.46,231.65 L137.55,231.77 L135.94,233.1 L136.46,235.13 L134.7,234 L132.94,235.13 L133.46,233.1 L131.85,231.77 L133.94,231.65ZM139.9,220.3 L140.66,222.25 L142.75,222.37 L141.14,223.7 L141.66,225.73 L139.9,224.6 L138.14,225.73 L138.66,223.7 L137.05,222.37 L139.14,222.25ZM146.5,221.9 L147.26,223.85 L149.35,223.97 L147.74,225.3 L148.26,227.33 L146.5,226.2 L144.74,227.33 L145.26,225.3 L143.65,223.97 L145.74,223.85ZM153.1,227.4 L153.86,229.35 L155.95,229.47 L154.34,230.8 L154.86,232.83 L153.1,231.7 L151.34,232.83 L151.86,230.8 L150.25,229.47 L152.34,229.35ZM164.2,226.2 L164.96,228.15 L167.05,228.27 L165.44,229.6 L165.96,231.63 L164.2,230.5 L162.44,231.63 L162.96,229.6 L161.35,228.27 L163.44,228.15ZM194,227.4 L194.76,229.35 L196.85,229.47 L195.24,230.8 L195.76,232.83 L194,231.7 L192.24,232.83 L192.76,230.8 L191.15,229.47 L193.24,229.35ZM204.4,224.3 L205.16,226.25 L207.25,226.37 L205.64,227.7 L206.16,229.73 L204.4,228.6 L202.64,229.73 L203.16,227.7 L201.55,226.37 L203.64,226.25ZM211,226.2 L211.76,228.15 L213.85,228.27 L212.24,229.6 L212.76,231.63 L211,230.5 L209.24,231.63 L209.76,229.6 L208.15,228.27 L210.24,228.15ZM218.6,221.4 L219.36,223.35 L221.45,223.47 L219.84,224.8 L220.36,226.83 L218.6,225.7 L216.84,226.83 L217.36,224.8 L215.75,223.47 L217.84,223.35ZM224,226.2 L224.76,228.15 L226.85,228.27 L225.24,229.6 L225.76,231.63 L224,230.5 L222.24,231.63 L222.76,229.6 L221.15,228.27 L223.24,228.15ZM229.5,226.2 L230.26,228.15 L232.35,228.27 L230.74,229.6 L231.26,231.63 L229.5,230.5 L227.74,231.63 L228.26,229.6 L226.65,228.27 L228.74,228.15ZM234.2,221.9 L234.96,223.85 L237.05,223.97 L235.44,225.3 L235.96,227.33 L234.2,226.2 L232.44,227.33 L232.96,225.3 L231.35,223.97 L233.44,223.85ZM239.4,226.7 L240.16,228.65 L242.25,228.77 L240.64,230.1 L241.16,232.13 L239.4,231 L237.64,232.13 L238.16,230.1 L236.55,228.77 L238.64,228.65ZM244.1,221 L244.86,222.95 L246.95,223.07 L245.34,224.4 L245.86,226.43 L244.1,225.3 L242.34,226.43 L242.86,224.4 L241.25,223.07 L243.34,222.95ZM249.3,225.7 L250.06,227.65 L252.15,227.77 L250.54,229.1 L251.06,231.13 L249.3,230 L247.54,231.13 L248.06,229.1 L246.45,227.77 L248.54,227.65ZM254.1,225 L254.86,226.95 L256.95,227.07 L255.34,228.4 L255.86,230.43 L254.1,229.3 L252.34,230.43 L252.86,228.4 L251.25,227.07 L253.34,226.95ZM259.5,225.7 L260.26,227.65 L262.35,227.77 L260.74,229.1 L261.26,231.13 L259.5,230 L257.74,231.13 L258.26,229.1 L256.65,227.77 L258.74,227.65ZM264.9,227.4 L265.66,229.35 L267.75,229.47 L266.14,230.8 L266.66,232.83 L264.9,231.7 L263.14,232.83 L263.66,230.8 L262.05,229.47 L264.14,229.35ZM270.1,224.3 L270.86,226.25 L272.95,226.37 L271.34,227.7 L271.86,229.73 L270.1,228.6 L268.34,229.73 L268.86,227.7 L267.25,226.37 L269.34,226.25ZM276.8,223.3 L277.56,225.25 L279.65,225.37 L278.04,226.7 L278.56,228.73 L276.8,227.6 L275.04,228.73 L275.56,226.7 L273.95,225.37 L276.04,225.25ZM286.2,221.4 L286.96,223.35 L289.05,223.47 L287.44,224.8 L287.96,226.83 L286.2,225.7 L284.44,226.83 L284.96,224.8 L283.35,223.47 L285.44,223.35ZM299,224.3 L299.76,226.25 L301.85,226.37 L300.24,227.7 L300.76,229.73 L299,228.6 L297.24,229.73 L297.76,227.7 L296.15,226.37 L298.24,226.25ZM306.3,219.4 L307.06,221.35 L309.15,221.47 L307.54,222.8 L308.06,224.83 L306.3,223.7 L304.54,224.83 L305.06,222.8 L303.45,221.47 L305.54,221.35ZM312.5,222.6 L313.26,224.55 L315.35,224.67 L313.74,226 L314.26,228.03 L312.5,226.9 L310.74,228.03 L311.26,226 L309.65,224.67 L311.74,224.55ZM325,223.3 L325.76,225.25 L327.85,225.37 L326.24,226.7 L326.76,228.73 L325,227.6 L323.24,228.73 L323.76,226.7 L322.15,225.37 L324.24,225.25ZM334.5,226.7 L335.26,228.65 L337.35,228.77 L335.74,230.1 L336.26,232.13 L334.5,231 L332.74,232.13 L333.26,230.1 L331.65,228.77 L333.74,228.65ZM342.3,223.3 L343.06,225.25 L345.15,225.37 L343.54,226.7 L344.06,228.73 L342.3,227.6 L340.54,228.73 L341.06,226.7 L339.45,225.37 L341.54,225.25ZM348,229.7 L348.76,231.65 L350.85,231.77 L349.24,233.1 L349.76,235.13 L348,234 L346.24,235.13 L346.76,233.1 L345.15,231.77 L347.24,231.65ZM353.4,228.1 L354.16,230.05 L356.25,230.17 L354.64,231.5 L355.16,233.53 L353.4,232.4 L351.64,233.53 L352.16,231.5 L350.55,230.17 L352.64,230.05ZM357.9,204.3 L358.66,206.25 L360.75,206.37 L359.14,207.7 L359.66,209.73 L357.9,208.6 L356.14,209.73 L356.66,207.7 L355.05,206.37 L357.14,206.25ZM358.9,206.8 L359.66,208.75 L361.75,208.87 L360.14,210.2 L360.66,212.23 L358.9,211.1 L357.14,212.23 L357.66,210.2 L356.05,208.87 L358.14,208.75ZM363.6,228.1 L364.36,230.05 L366.45,230.17 L364.84,231.5 L365.36,233.53 L363.6,232.4 L361.84,233.53 L362.36,231.5 L360.75,230.17 L362.84,230.05ZM368.3,221.9 L369.06,223.85 L371.15,223.97 L369.54,225.3 L370.06,227.33 L368.3,226.2 L366.54,227.33 L367.06,225.3 L365.45,223.97 L367.54,223.85ZM374.2,227.4 L374.96,229.35 L377.05,229.47 L375.44,230.8 L375.96,232.83 L374.2,231.7 L372.44,232.83 L372.96,230.8 L371.35,229.47 L373.44,229.35ZM377.7,216.2 L378.46,218.15 L380.55,218.27 L378.94,219.6 L379.46,221.63 L377.7,220.5 L375.94,221.63 L376.46,219.6 L374.85,218.27 L376.94,218.15ZM380.8,191.3 L381.56,193.25 L383.65,193.37 L382.04,194.7 L382.56,196.73 L380.8,195.6 L379.04,196.73 L379.56,194.7 L377.95,193.37 L380.04,193.25ZM384.1,221 L384.86,222.95 L386.95,223.07 L385.34,224.4 L385.86,226.43 L384.1,225.3 L382.34,226.43 L382.86,224.4 L381.25,223.07 L383.34,222.95ZM388.9,229.7 L389.66,231.65 L391.75,231.77 L390.14,233.1 L390.66,235.13 L388.9,234 L387.14,235.13 L387.66,233.1 L386.05,231.77 L388.14,231.65ZM393.6,221 L394.36,222.95 L396.45,223.07 L394.84,224.4 L395.36,226.43 L393.6,225.3 L391.84,226.43 L392.36,224.4 L390.75,223.07 L392.84,222.95ZM400.7,221 L401.46,222.95 L403.55,223.07 L401.94,224.4 L402.46,226.43 L400.7,225.3 L398.94,226.43 L399.46,224.4 L397.85,223.07 L399.94,222.95ZM408.5,217.2 L409.26,219.15 L411.35,219.27 L409.74,220.6 L410.26,222.63 L408.5,221.5 L406.74,222.63 L407.26,220.6 L405.65,219.27 L407.74,219.15ZM417.9,229.7 L418.66,231.65 L420.75,231.77 L419.14,233.1 L419.66,235.13 L417.9,234 L416.14,235.13 L416.66,233.1 L415.05,231.77 L417.14,231.65ZM447.5,228.1 L448.26,230.05 L450.35,230.17 L448.74,231.5 L449.26,233.53 L447.5,232.4 L445.74,233.53 L446.26,231.5 L444.65,230.17 L446.74,230.05ZM458.6,232.8 L459.36,234.75 L461.45,234.87 L459.84,236.2 L460.36,238.23 L458.6,237.1 L456.84,238.23 L457.36,236.2 L455.75,234.87 L457.84,234.75ZM465.7,220.3 L466.46,222.25 L468.55,222.37 L466.94,223.7 L467.46,225.73 L465.7,224.6 L463.94,225.73 L464.46,223.7 L462.85,222.37 L464.94,222.25ZM471.8,212.5 L472.56,214.45 L474.65,214.57 L473.04,215.9 L473.56,217.93 L471.8,216.8 L470.04,217.93 L470.56,215.9 L468.95,214.57 L471.04,214.45ZM477.7,227.4 L478.46,229.35 L480.55,229.47 L478.94,230.8 L479.46,232.83 L477.7,231.7 L475.94,232.83 L476.46,230.8 L474.85,229.47 L476.94,229.35ZM482.9,225 L483.66,226.95 L485.75,227.07 L484.14,228.4 L484.66,230.43 L482.9,229.3 L481.14,230.43 L481.66,228.4 L480.05,227.07 L482.14,226.95ZM488.4,228.1 L489.16,230.05 L491.25,230.17 L489.64,231.5 L490.16,233.53 L488.4,232.4 L486.64,233.53 L487.16,231.5 L485.55,230.17 L487.64,230.05ZM493.6,228.1 L494.36,230.05 L496.45,230.17 L494.84,231.5 L495.36,233.53 L493.6,232.4 L491.84,233.53 L492.36,231.5 L490.75,230.17 L492.84,230.05ZM498.3,225 L499.06,226.95 L501.15,227.07 L499.54,228.4 L500.06,230.43 L498.3,229.3 L496.54,230.43 L497.06,228.4 L495.45,227.07 L497.54,226.95ZM503,225 L503.76,226.95 L505.85,227.07 L504.24,228.4 L504.76,230.43 L503,229.3 L501.24,230.43 L501.76,228.4 L500.15,227.07 L502.24,226.95ZM508.2,226.2 L508.96,228.15 L511.05,228.27 L509.44,229.6 L509.96,231.63 L508.2,230.5 L506.44,231.63 L506.96,229.6 L505.35,228.27 L507.44,228.15ZM513,226.2 L513.76,228.15 L515.85,228.27 L514.24,229.6 L514.76,231.63 L513,230.5 L511.24,231.63 L511.76,229.6 L510.15,228.27 L512.24,228.15ZM518.4,223.3 L519.16,225.25 L521.25,225.37 L519.64,226.7 L520.16,228.73 L518.4,227.6 L516.64,228.73 L517.16,226.7 L515.55,225.37 L517.64,225.25ZM524.3,232.1 L525.06,234.05 L527.15,234.17 L525.54,235.5 L526.06,237.53 L524.3,236.4 L522.54,237.53 L523.06,235.5 L521.45,234.17 L523.54,234.05ZM530.2,213.2 L530.96,215.15 L533.05,215.27 L531.44,216.6 L531.96,218.63 L530.2,217.5 L528.44,218.63 L528.96,216.6 L527.35,215.27 L529.44,215.15Z" fill="#222" stroke="#222" stroke-width="0.5"/>
</g>
<path d="M63.1,159L76,159.03M157.3,159.17L170.5,159.2" stroke="#999" stroke-width="1" fill="none"/>
<path d="M56,159 L63.1,156.7 Q62.3,159 63.1,161.3Z" fill="#000"/>
<path d="M178.7,159.2 L170.5,156.9 Q171.3,159.2 170.5,161.5Z" fill="#000"/>
<text x="78.5" y="160.5" textLength="75.8" lengthAdjust="spacingAndGlyphs" class="an" style="font-size:9.64px">Number of peak:18</text>
<path d="M191.1,159.2L203.4,159.2M285.8,159.2L297.2,159.2" stroke="#999" stroke-width="1" fill="none"/>
<path d="M183,159.2 L191.1,156.9 Q190.3,159.2 191.1,161.5Z" fill="#000"/>
<path d="M305.4,159.2 L297.2,156.9 Q298,159.2 297.2,161.5Z" fill="#000"/>
<text x="205.9" y="160.2" textLength="76.9" lengthAdjust="spacingAndGlyphs" class="an" style="font-size:9.78px">Number of peak:17</text>
<path d="M317.2,159L329.5,159.03M412.3,159.17L424.9,159.2" stroke="#999" stroke-width="1" fill="none"/>
<path d="M309.6,159 L317.2,156.7 Q316.4,159 317.2,161.3Z" fill="#000"/>
<path d="M433,159.2 L424.9,156.9 Q425.7,159.2 424.9,161.5Z" fill="#000"/>
<text x="332" y="160.2" textLength="77.3" lengthAdjust="spacingAndGlyphs" class="an" style="font-size:9.83px">Number of peak:18</text>
<path d="M443.2,159.2L447.1,159.2M529.3,159.2L529,159.2" stroke="#999" stroke-width="1" fill="none"/>
<path d="M435.7,159.2 L443.2,156.9 Q442.4,159.2 443.2,161.5Z" fill="#000"/>
<path d="M535.2,159.2 L529,156.9 Q529.8,159.2 529,161.5Z" fill="#000"/>
<text x="449.6" y="160.4" textLength="76.7" lengthAdjust="spacingAndGlyphs" class="an" style="font-size:9.75px">Number of peak:15</text>
<path d="M63.6,238.2L76.5,238.42M162.4,239.32L171.2,239.5" stroke="#999" stroke-width="1" fill="none"/>
<path d="M56,238.2 L63.6,235.9 Q62.8,238.2 63.6,240.5Z" fill="#000"/>
<path d="M179.4,239.5 L171.2,237.2 Q172,239.5 171.2,241.8Z" fill="#000"/>
<text x="79" y="241.8" textLength="80.4" lengthAdjust="spacingAndGlyphs" class="an" style="font-size:9.7px">Number of valley:18</text>
<path d="M190.8,239.5L207.4,239.64M294.2,240.13L297.2,240.2" stroke="#999" stroke-width="1" fill="none"/>
<path d="M182.6,239.5 L190.8,237.2 Q190,239.5 190.8,241.8Z" fill="#000"/>
<path d="M305.7,240.2 L297.2,237.9 Q298,240.2 297.2,242.5Z" fill="#000"/>
<text x="209.9" y="242" textLength="81.3" lengthAdjust="spacingAndGlyphs" class="an" style="font-size:9.81px">Number of valley:17</text>
<path d="M314.9,240L330.4,240.22M416.1,241.05L423.9,241.2" stroke="#999" stroke-width="1" fill="none"/>
<path d="M308,240 L314.9,237.7 Q314.1,240 314.9,242.3Z" fill="#000"/>
<path d="M432.1,241.2 L423.9,238.9 Q424.7,241.2 423.9,243.5Z" fill="#000"/>
<text x="332.9" y="242.9" textLength="80.2" lengthAdjust="spacingAndGlyphs" class="an" style="font-size:9.68px">Number of valley:19</text>
<path d="M442.9,240.4L449.2,240.55M523.3,241.36L528,241.5" stroke="#999" stroke-width="1" fill="none"/>
<path d="M435,240.4 L442.9,238.1 Q442.1,240.4 442.9,242.7Z" fill="#000"/>
<path d="M535.9,241.5 L528,239.2 Q528.8,241.5 528,243.8Z" fill="#000"/>
<text x="451.7" y="242.9" textLength="68.6" lengthAdjust="spacingAndGlyphs" class="an" style="font-size:8.28px">Number of valley:15</text>
<rect x="54.3" y="148.75" width="482.2" height="99.35" fill="none" stroke="#000" stroke-width="1.5"/>
<path d="M54.3,242.59h2.8M536.5,242.59h-2.8M54.3,235.3h5.6M536.5,235.3h-5.6M54.3,228.01h2.8M536.5,228.01h-2.8M54.3,220.72h5.6M536.5,220.72h-5.6M54.3,213.43h2.8M536.5,213.43h-2.8M54.3,206.14h5.6M536.5,206.14h-5.6M54.3,198.85h2.8M536.5,198.85h-2.8M54.3,191.56h5.6M536.5,191.56h-5.6M54.3,184.27h2.8M536.5,184.27h-2.8M54.3,176.98h5.6M536.5,176.98h-5.6M54.3,169.69h2.8M536.5,169.69h-2.8M54.3,162.4h5.6M536.5,162.4h-5.6M54.3,155.11h2.8M536.5,155.11h-2.8M181.2,248.1v-5.6M181.2,148.75v5.6M308.5,248.1v-5.6M308.5,148.75v5.6M435.5,248.1v-5.6M435.5,148.75v5.6M117.8,248.1v-2.9M117.8,148.75v2.9M245,248.1v-2.9M245,148.75v2.9M371.5,248.1v-2.9M371.5,148.75v2.9M486.2,248.1v-2.9M486.2,148.75v2.9" stroke="#000" stroke-width="1.3" fill="none"/>
<text x="47.2" y="239.3" text-anchor="end" class="tl">0.0</text>
<text x="47.2" y="224.72" text-anchor="end" class="tl">0.2</text>
<text x="47.2" y="210.14" text-anchor="end" class="tl">0.4</text>
<text x="47.2" y="195.56" text-anchor="end" class="tl">0.6</text>
<text x="47.2" y="180.98" text-anchor="end" class="tl">0.8</text>
<text x="47.2" y="166.4" text-anchor="end" class="tl">1.0</text>
<text x="53.9" y="265.4" text-anchor="middle" class="xt">0.00</text>
<text x="181" y="265.4" text-anchor="middle" class="xt">0.05</text>
<text x="307.9" y="265.4" text-anchor="middle" class="xt">0.10</text>
<text x="434.9" y="265.4" text-anchor="middle" class="xt">0.15</text>
<text x="537.1" y="265.4" text-anchor="middle" class="xt">0.19</text>
<text x="308.1" y="276" text-anchor="middle" class="tt">Time(s)</text>
<text x="308" y="287.3" text-anchor="middle" class="tl">(b)</text>
<text transform="translate(11.3,197.3) rotate(-90)" text-anchor="middle" class="yl">Normalized</text>
<text transform="translate(24.6,197.3) rotate(-90)" text-anchor="middle" class="yl">Intensity of SMI (a.u.)</text>
<clipPath id="clipc"><rect x="54.3" y="294.8" width="482.2" height="97.6"/></clipPath>
<g clip-path="url(#clipc)">
<path d="M55,367.8C56.46,367.8 57.54,371.3 59,371.3C61.77,371.3 63.83,306.8 66.6,306.8C68.31,306.8 69.59,371.3 71.3,371.3C73.01,371.3 74.29,324.5 76,324.5C78,324.5 79.5,366.6 81.5,366.6C82.37,366.6 83.03,318.6 83.9,318.6C85.36,318.6 86.44,367.1 87.9,367.1C88.74,367.1 89.36,317 90.2,317C91.58,317 92.62,365.2 94,365.2C95.06,365.2 95.84,319.3 96.9,319.3C97.92,319.3 98.68,362.8 99.7,362.8C100.83,362.8 101.67,326.9 102.8,326.9C103.64,326.9 104.26,362.8 105.1,362.8C105.97,362.8 106.63,321 107.5,321C108.37,321 109.03,362.8 109.9,362.8C110.74,362.8 111.36,324.5 112.2,324.5C113.33,324.5 114.17,361.9 115.3,361.9C115.88,361.9 116.32,321 116.9,321C118.03,321 118.87,364.2 120,364.2C120.87,364.2 121.53,322.6 122.4,322.6C123.24,322.6 123.86,362.4 124.7,362.4C125.57,362.4 126.23,322.2 127.1,322.2C128.12,322.2 128.88,362.8 129.9,362.8C130.77,362.8 131.43,318.6 132.3,318.6C133.36,318.6 134.14,367.6 135.2,367.6C136.04,367.6 136.66,317.4 137.5,317.4C138.45,317.4 139.15,365.9 140.1,365.9C141.16,365.9 141.94,319.8 143,319.8C144.27,319.8 145.23,369.9 146.5,369.9C147.77,369.9 148.73,310.3 150,310.3C151.31,310.3 152.29,373.7 153.6,373.7C155.06,373.7 156.14,313.9 157.6,313.9C160,313.9 161.8,376.1 164.2,376.1C166.35,376.1 167.95,307.5 170.1,307.5C173.81,307.5 176.59,320.8 180.3,320.8C183.07,320.8 185.13,307.5 187.9,307.5C190.3,307.5 192.1,375.4 194.5,375.4C196.65,375.4 198.25,316.3 200.4,316.3C202.11,316.3 203.39,375.4 205.1,375.4C206.23,375.4 207.07,308.5 208.2,308.5C209.47,308.5 210.43,375.4 211.7,375.4C213.01,375.4 213.99,311.5 215.3,311.5C216.5,311.5 217.4,366.6 218.6,366.6C219.73,366.6 220.57,318.6 221.7,318.6C222.79,318.6 223.61,368.3 224.7,368.3C225.57,368.3 226.23,321 227.1,321C227.97,321 228.63,361.9 229.5,361.9C230.34,361.9 230.96,323.3 231.8,323.3C232.86,323.3 233.64,357.6 234.7,357.6C235.54,357.6 236.16,322.2 237,322.2C237.87,322.2 238.53,364.2 239.4,364.2C240.27,364.2 240.93,324.1 241.8,324.1C242.82,324.1 243.58,356.4 244.6,356.4C245.55,356.4 246.25,320.3 247.2,320.3C248.07,320.3 248.73,363.5 249.6,363.5C250.44,363.5 251.06,322.2 251.9,322.2C252.96,322.2 253.74,363.5 254.8,363.5C255.64,363.5 256.26,323.3 257.1,323.3C258.23,323.3 259.07,363.5 260.2,363.5C260.82,363.5 261.28,321.7 261.9,321.7C262.99,321.7 263.81,365.9 264.9,365.9C265.77,365.9 266.43,317.4 267.3,317.4C268.5,317.4 269.4,370.6 270.6,370.6C271.73,370.6 272.57,316.7 273.7,316.7C274.97,316.7 275.93,369 277.2,369C278.77,369 279.93,316.3 281.5,316.3C283.39,316.3 284.81,370.6 286.7,370.6C288.59,370.6 290.01,305.1 291.9,305.1C294.74,305.1 296.86,373.7 299.7,373.7C300.97,373.7 301.93,366.3 303.2,366.3C304.62,366.3 305.68,367.4 307.1,367.4C307.97,367.4 308.63,366.6 309.5,366.6C310.59,366.6 311.41,371.3 312.5,371.3C315.34,371.3 317.46,307.5 320.3,307.5C322.27,307.5 323.73,371.3 325.7,371.3C327.59,371.3 329.01,316.7 330.9,316.7C332.47,316.7 333.63,377.7 335.2,377.7C336.4,377.7 337.3,310.8 338.5,310.8C339.88,310.8 340.92,370.6 342.3,370.6C343.5,370.6 344.4,322.2 345.6,322.2C346.73,322.2 347.57,369 348.7,369C349.54,369 350.16,321 351,321C352.06,321 352.84,364.2 353.9,364.2C354.85,364.2 355.55,324.5 356.5,324.5C357.26,324.5 357.84,361.2 358.6,361.2C359.73,361.2 360.57,322.6 361.7,322.6C362.39,322.6 362.91,365.2 363.6,365.2C364.62,365.2 365.38,321 366.4,321C367.27,321 367.93,358.8 368.8,358.8C369.64,358.8 370.26,331.2 371.1,331.2C372.23,331.2 373.07,364.2 374.2,364.2C374.96,364.2 375.54,321.7 376.3,321.7C377.43,321.7 378.27,361.2 379.4,361.2C380.27,361.2 380.93,322.6 381.8,322.6C382.64,322.6 383.26,361.9 384.1,361.9C384.97,361.9 385.63,322.2 386.5,322.2C387.52,322.2 388.28,364.2 389.3,364.2C389.99,364.2 390.51,319.8 391.2,319.8C392.33,319.8 393.17,370.6 394.3,370.6C395.17,370.6 395.83,315.1 396.7,315.1C398.16,315.1 399.24,367.6 400.7,367.6C401.97,367.6 402.93,319.3 404.2,319.3C405.95,319.3 407.25,364.2 409,364.2C410.71,364.2 411.99,313.9 413.7,313.9C415.41,313.9 416.69,378.4 418.4,378.4C420.8,378.4 422.6,308 425,308C427.77,308 429.83,322.2 432.6,322.2C435.88,322.2 438.32,306.8 441.6,306.8C443.75,306.8 445.35,376.5 447.5,376.5C450.27,376.5 452.33,308.5 455.1,308.5C456.37,308.5 457.33,381.7 458.6,381.7C459.98,381.7 461.02,308.5 462.4,308.5C463.6,308.5 464.5,367.1 465.7,367.1C466.83,367.1 467.67,322.6 468.8,322.6C470.07,322.6 471.03,358.1 472.3,358.1C473.61,358.1 474.59,327.4 475.9,327.4C476.74,327.4 477.36,364.2 478.2,364.2C479.07,364.2 479.73,321 480.6,321C481.73,321 482.57,364.7 483.7,364.7C484.54,364.7 485.16,323.3 486,323.3C487.06,323.3 487.84,366.6 488.9,366.6C489.74,366.6 490.36,322.6 491.2,322.6C492.26,322.6 493.04,365.9 494.1,365.9C494.79,365.9 495.31,322.6 496,322.6C497.02,322.6 497.78,362.8 498.8,362.8C499.67,362.8 500.33,324.1 501.2,324.1C502.04,324.1 502.66,362.4 503.5,362.4C504.37,362.4 505.03,325 505.9,325C506.85,325 507.55,366.6 508.5,366.6C509.34,366.6 509.96,322.6 510.8,322.6C511.86,322.6 512.64,364.2 513.7,364.2C514.54,364.2 515.16,326.4 516,326.4C517.13,326.4 517.97,364.2 519.1,364.2C519.97,364.2 520.63,319.8 521.5,319.8C522.52,319.8 523.28,365.9 524.3,365.9C525.87,365.9 527.03,325 528.6,325C529.62,325 530.38,366.6 531.4,366.6C533.37,366.6 534.83,322.8 536.8,322.8" fill="none" stroke="#5c5c5c" stroke-width="1.4"/>
<line x1="181.2" y1="294.8" x2="181.2" y2="392.4" stroke="#111" stroke-width="1.4" stroke-dasharray="6.9 6" stroke-dashoffset="8.7"/>
<line x1="308.5" y1="294.8" x2="308.5" y2="392.4" stroke="#111" stroke-width="1.4" stroke-dasharray="6.9 6" stroke-dashoffset="8.7"/>
<line x1="435" y1="294.8" x2="435" y2="392.4" stroke="#111" stroke-width="1.4" stroke-dasharray="6.9 6" stroke-dashoffset="8.7"/>
<path d="M55,363.9 L56,366.42 L58.71,366.59 L56.62,368.33 L57.29,370.96 L55,369.5 L52.71,370.96 L53.38,368.33 L51.29,366.59 L54,366.42ZM66.6,302.9 L67.6,305.42 L70.31,305.59 L68.22,307.33 L68.89,309.96 L66.6,308.5 L64.31,309.96 L64.98,307.33 L62.89,305.59 L65.6,305.42ZM76,320.6 L77,323.12 L79.71,323.29 L77.62,325.03 L78.29,327.66 L76,326.2 L73.71,327.66 L74.38,325.03 L72.29,323.29 L75,323.12ZM83.9,314.7 L84.9,317.22 L87.61,317.39 L85.52,319.13 L86.19,321.76 L83.9,320.3 L81.61,321.76 L82.28,319.13 L80.19,317.39 L82.9,317.22ZM90.2,313.1 L91.2,315.62 L93.91,315.79 L91.82,317.53 L92.49,320.16 L90.2,318.7 L87.91,320.16 L88.58,317.53 L86.49,315.79 L89.2,315.62ZM96.9,315.4 L97.9,317.92 L100.61,318.09 L98.52,319.83 L99.19,322.46 L96.9,321 L94.61,322.46 L95.28,319.83 L93.19,318.09 L95.9,317.92ZM102.8,323 L103.8,325.52 L106.51,325.69 L104.42,327.43 L105.09,330.06 L102.8,328.6 L100.51,330.06 L101.18,327.43 L99.09,325.69 L101.8,325.52ZM107.5,317.1 L108.5,319.62 L111.21,319.79 L109.12,321.53 L109.79,324.16 L107.5,322.7 L105.21,324.16 L105.88,321.53 L103.79,319.79 L106.5,319.62ZM112.2,320.6 L113.2,323.12 L115.91,323.29 L113.82,325.03 L114.49,327.66 L112.2,326.2 L109.91,327.66 L110.58,325.03 L108.49,323.29 L111.2,323.12ZM116.9,317.1 L117.9,319.62 L120.61,319.79 L118.52,321.53 L119.19,324.16 L116.9,322.7 L114.61,324.16 L115.28,321.53 L113.19,319.79 L115.9,319.62ZM122.4,318.7 L123.4,321.22 L126.11,321.39 L124.02,323.13 L124.69,325.76 L122.4,324.3 L120.11,325.76 L120.78,323.13 L118.69,321.39 L121.4,321.22ZM127.1,318.3 L128.1,320.82 L130.81,320.99 L128.72,322.73 L129.39,325.36 L127.1,323.9 L124.81,325.36 L125.48,322.73 L123.39,320.99 L126.1,320.82ZM132.3,314.7 L133.3,317.22 L136.01,317.39 L133.92,319.13 L134.59,321.76 L132.3,320.3 L130.01,321.76 L130.68,319.13 L128.59,317.39 L131.3,317.22ZM137.5,313.5 L138.5,316.02 L141.21,316.19 L139.12,317.93 L139.79,320.56 L137.5,319.1 L135.21,320.56 L135.88,317.93 L133.79,316.19 L136.5,316.02ZM143,315.9 L144,318.42 L146.71,318.59 L144.62,320.33 L145.29,322.96 L143,321.5 L140.71,322.96 L141.38,320.33 L139.29,318.59 L142,318.42ZM150,306.4 L151,308.92 L153.71,309.09 L151.62,310.83 L152.29,313.46 L150,312 L147.71,313.46 L148.38,310.83 L146.29,309.09 L149,308.92ZM157.6,310 L158.6,312.52 L161.31,312.69 L159.22,314.43 L159.89,317.06 L157.6,315.6 L155.31,317.06 L155.98,314.43 L153.89,312.69 L156.6,312.52ZM170.1,303.6 L171.1,306.12 L173.81,306.29 L171.72,308.03 L172.39,310.66 L170.1,309.2 L167.81,310.66 L168.48,308.03 L166.39,306.29 L169.1,306.12ZM187.9,303.6 L188.9,306.12 L191.61,306.29 L189.52,308.03 L190.19,310.66 L187.9,309.2 L185.61,310.66 L186.28,308.03 L184.19,306.29 L186.9,306.12ZM200.4,312.4 L201.4,314.92 L204.11,315.09 L202.02,316.83 L202.69,319.46 L200.4,318 L198.11,319.46 L198.78,316.83 L196.69,315.09 L199.4,314.92ZM208.2,304.6 L209.2,307.12 L211.91,307.29 L209.82,309.03 L210.49,311.66 L208.2,310.2 L205.91,311.66 L206.58,309.03 L204.49,307.29 L207.2,307.12ZM215.3,307.6 L216.3,310.12 L219.01,310.29 L216.92,312.03 L217.59,314.66 L215.3,313.2 L213.01,314.66 L213.68,312.03 L211.59,310.29 L214.3,310.12ZM221.7,314.7 L222.7,317.22 L225.41,317.39 L223.32,319.13 L223.99,321.76 L221.7,320.3 L219.41,321.76 L220.08,319.13 L217.99,317.39 L220.7,317.22ZM227.1,317.1 L228.1,319.62 L230.81,319.79 L228.72,321.53 L229.39,324.16 L227.1,322.7 L224.81,324.16 L225.48,321.53 L223.39,319.79 L226.1,319.62ZM231.8,319.4 L232.8,321.92 L235.51,322.09 L233.42,323.83 L234.09,326.46 L231.8,325 L229.51,326.46 L230.18,323.83 L228.09,322.09 L230.8,321.92ZM237,318.3 L238,320.82 L240.71,320.99 L238.62,322.73 L239.29,325.36 L237,323.9 L234.71,325.36 L235.38,322.73 L233.29,320.99 L236,320.82ZM241.8,320.2 L242.8,322.72 L245.51,322.89 L243.42,324.63 L244.09,327.26 L241.8,325.8 L239.51,327.26 L240.18,324.63 L238.09,322.89 L240.8,322.72ZM247.2,316.4 L248.2,318.92 L250.91,319.09 L248.82,320.83 L249.49,323.46 L247.2,322 L244.91,323.46 L245.58,320.83 L243.49,319.09 L246.2,318.92ZM251.9,318.3 L252.9,320.82 L255.61,320.99 L253.52,322.73 L254.19,325.36 L251.9,323.9 L249.61,325.36 L250.28,322.73 L248.19,320.99 L250.9,320.82ZM257.1,319.4 L258.1,321.92 L260.81,322.09 L258.72,323.83 L259.39,326.46 L257.1,325 L254.81,326.46 L255.48,323.83 L253.39,322.09 L256.1,321.92ZM261.9,317.8 L262.9,320.32 L265.61,320.49 L263.52,322.23 L264.19,324.86 L261.9,323.4 L259.61,324.86 L260.28,322.23 L258.19,320.49 L260.9,320.32ZM267.3,313.5 L268.3,316.02 L271.01,316.19 L268.92,317.93 L269.59,320.56 L267.3,319.1 L265.01,320.56 L265.68,317.93 L263.59,316.19 L266.3,316.02ZM273.7,312.8 L274.7,315.32 L277.41,315.49 L275.32,317.23 L275.99,319.86 L273.7,318.4 L271.41,319.86 L272.08,317.23 L269.99,315.49 L272.7,315.32ZM281.5,312.4 L282.5,314.92 L285.21,315.09 L283.12,316.83 L283.79,319.46 L281.5,318 L279.21,319.46 L279.88,316.83 L277.79,315.09 L280.5,314.92ZM291.9,301.2 L292.9,303.72 L295.61,303.89 L293.52,305.63 L294.19,308.26 L291.9,306.8 L289.61,308.26 L290.28,305.63 L288.19,303.89 L290.9,303.72ZM320.3,303.6 L321.3,306.12 L324.01,306.29 L321.92,308.03 L322.59,310.66 L320.3,309.2 L318.01,310.66 L318.68,308.03 L316.59,306.29 L319.3,306.12ZM330.9,312.8 L331.9,315.32 L334.61,315.49 L332.52,317.23 L333.19,319.86 L330.9,318.4 L328.61,319.86 L329.28,317.23 L327.19,315.49 L329.9,315.32ZM338.5,306.9 L339.5,309.42 L342.21,309.59 L340.12,311.33 L340.79,313.96 L338.5,312.5 L336.21,313.96 L336.88,311.33 L334.79,309.59 L337.5,309.42ZM345.6,318.3 L346.6,320.82 L349.31,320.99 L347.22,322.73 L347.89,325.36 L345.6,323.9 L343.31,325.36 L343.98,322.73 L341.89,320.99 L344.6,320.82ZM351,317.1 L352,319.62 L354.71,319.79 L352.62,321.53 L353.29,324.16 L351,322.7 L348.71,324.16 L349.38,321.53 L347.29,319.79 L350,319.62ZM356.5,320.6 L357.5,323.12 L360.21,323.29 L358.12,325.03 L358.79,327.66 L356.5,326.2 L354.21,327.66 L354.88,325.03 L352.79,323.29 L355.5,323.12ZM361.7,318.7 L362.7,321.22 L365.41,321.39 L363.32,323.13 L363.99,325.76 L361.7,324.3 L359.41,325.76 L360.08,323.13 L357.99,321.39 L360.7,321.22ZM366.4,317.1 L367.4,319.62 L370.11,319.79 L368.02,321.53 L368.69,324.16 L366.4,322.7 L364.11,324.16 L364.78,321.53 L362.69,319.79 L365.4,319.62ZM371.1,327.3 L372.1,329.82 L374.81,329.99 L372.72,331.73 L373.39,334.36 L371.1,332.9 L368.81,334.36 L369.48,331.73 L367.39,329.99 L370.1,329.82ZM376.3,317.8 L377.3,320.32 L380.01,320.49 L377.92,322.23 L378.59,324.86 L376.3,323.4 L374.01,324.86 L374.68,322.23 L372.59,320.49 L375.3,320.32ZM381.8,318.7 L382.8,321.22 L385.51,321.39 L383.42,323.13 L384.09,325.76 L381.8,324.3 L379.51,325.76 L380.18,323.13 L378.09,321.39 L380.8,321.22ZM386.5,318.3 L387.5,320.82 L390.21,320.99 L388.12,322.73 L388.79,325.36 L386.5,323.9 L384.21,325.36 L384.88,322.73 L382.79,320.99 L385.5,320.82ZM391.2,315.9 L392.2,318.42 L394.91,318.59 L392.82,320.33 L393.49,322.96 L391.2,321.5 L388.91,322.96 L389.58,320.33 L387.49,318.59 L390.2,318.42ZM396.7,311.2 L397.7,313.72 L400.41,313.89 L398.32,315.63 L398.99,318.26 L396.7,316.8 L394.41,318.26 L395.08,315.63 L392.99,313.89 L395.7,313.72ZM404.2,315.4 L405.2,317.92 L407.91,318.09 L405.82,319.83 L406.49,322.46 L404.2,321 L401.91,322.46 L402.58,319.83 L400.49,318.09 L403.2,317.92ZM413.7,310 L414.7,312.52 L417.41,312.69 L415.32,314.43 L415.99,317.06 L413.7,315.6 L411.41,317.06 L412.08,314.43 L409.99,312.69 L412.7,312.52ZM425,304.1 L426,306.62 L428.71,306.79 L426.62,308.53 L427.29,311.16 L425,309.7 L422.71,311.16 L423.38,308.53 L421.29,306.79 L424,306.62ZM441.6,302.9 L442.6,305.42 L445.31,305.59 L443.22,307.33 L443.89,309.96 L441.6,308.5 L439.31,309.96 L439.98,307.33 L437.89,305.59 L440.6,305.42ZM455.1,304.6 L456.1,307.12 L458.81,307.29 L456.72,309.03 L457.39,311.66 L455.1,310.2 L452.81,311.66 L453.48,309.03 L451.39,307.29 L454.1,307.12ZM462.4,304.6 L463.4,307.12 L466.11,307.29 L464.02,309.03 L464.69,311.66 L462.4,310.2 L460.11,311.66 L460.78,309.03 L458.69,307.29 L461.4,307.12ZM468.8,318.7 L469.8,321.22 L472.51,321.39 L470.42,323.13 L471.09,325.76 L468.8,324.3 L466.51,325.76 L467.18,323.13 L465.09,321.39 L467.8,321.22ZM475.9,323.5 L476.9,326.02 L479.61,326.19 L477.52,327.93 L478.19,330.56 L475.9,329.1 L473.61,330.56 L474.28,327.93 L472.19,326.19 L474.9,326.02ZM480.6,317.1 L481.6,319.62 L484.31,319.79 L482.22,321.53 L482.89,324.16 L480.6,322.7 L478.31,324.16 L478.98,321.53 L476.89,319.79 L479.6,319.62ZM486,319.4 L487,321.92 L489.71,322.09 L487.62,323.83 L488.29,326.46 L486,325 L483.71,326.46 L484.38,323.83 L482.29,322.09 L485,321.92ZM491.2,318.7 L492.2,321.22 L494.91,321.39 L492.82,323.13 L493.49,325.76 L491.2,324.3 L488.91,325.76 L489.58,323.13 L487.49,321.39 L490.2,321.22ZM496,318.7 L497,321.22 L499.71,321.39 L497.62,323.13 L498.29,325.76 L496,324.3 L493.71,325.76 L494.38,323.13 L492.29,321.39 L495,321.22ZM501.2,320.2 L502.2,322.72 L504.91,322.89 L502.82,324.63 L503.49,327.26 L501.2,325.8 L498.91,327.26 L499.58,324.63 L497.49,322.89 L500.2,322.72ZM505.9,321.1 L506.9,323.62 L509.61,323.79 L507.52,325.53 L508.19,328.16 L505.9,326.7 L503.61,328.16 L504.28,325.53 L502.19,323.79 L504.9,323.62ZM510.8,318.7 L511.8,321.22 L514.51,321.39 L512.42,323.13 L513.09,325.76 L510.8,324.3 L508.51,325.76 L509.18,323.13 L507.09,321.39 L509.8,321.22ZM516,322.5 L517,325.02 L519.71,325.19 L517.62,326.93 L518.29,329.56 L516,328.1 L513.71,329.56 L514.38,326.93 L512.29,325.19 L515,325.02ZM521.5,315.9 L522.5,318.42 L525.21,318.59 L523.12,320.33 L523.79,322.96 L521.5,321.5 L519.21,322.96 L519.88,320.33 L517.79,318.59 L520.5,318.42ZM528.6,321.1 L529.6,323.62 L532.31,323.79 L530.22,325.53 L530.89,328.16 L528.6,326.7 L526.31,328.16 L526.98,325.53 L524.89,323.79 L527.6,323.62Z" fill="#fff" fill-opacity="0.15" stroke="#333" stroke-width="0.9"/>
<path d="M59,368.3 L59.76,370.25 L61.85,370.37 L60.24,371.7 L60.76,373.73 L59,372.6 L57.24,373.73 L57.76,371.7 L56.15,370.37 L58.24,370.25ZM71.3,368.3 L72.06,370.25 L74.15,370.37 L72.54,371.7 L73.06,373.73 L71.3,372.6 L69.54,373.73 L70.06,371.7 L68.45,370.37 L70.54,370.25ZM81.5,363.6 L82.26,365.55 L84.35,365.67 L82.74,367 L83.26,369.03 L81.5,367.9 L79.74,369.03 L80.26,367 L78.65,365.67 L80.74,365.55ZM87.9,364.1 L88.66,366.05 L90.75,366.17 L89.14,367.5 L89.66,369.53 L87.9,368.4 L86.14,369.53 L86.66,367.5 L85.05,366.17 L87.14,366.05ZM94,362.2 L94.76,364.15 L96.85,364.27 L95.24,365.6 L95.76,367.63 L94,366.5 L92.24,367.63 L92.76,365.6 L91.15,364.27 L93.24,364.15ZM99.7,359.8 L100.46,361.75 L102.55,361.87 L100.94,363.2 L101.46,365.23 L99.7,364.1 L97.94,365.23 L98.46,363.2 L96.85,361.87 L98.94,361.75ZM105.1,359.8 L105.86,361.75 L107.95,361.87 L106.34,363.2 L106.86,365.23 L105.1,364.1 L103.34,365.23 L103.86,363.2 L102.25,361.87 L104.34,361.75ZM109.9,359.8 L110.66,361.75 L112.75,361.87 L111.14,363.2 L111.66,365.23 L109.9,364.1 L108.14,365.23 L108.66,363.2 L107.05,361.87 L109.14,361.75ZM115.3,358.9 L116.06,360.85 L118.15,360.97 L116.54,362.3 L117.06,364.33 L115.3,363.2 L113.54,364.33 L114.06,362.3 L112.45,360.97 L114.54,360.85ZM120,361.2 L120.76,363.15 L122.85,363.27 L121.24,364.6 L121.76,366.63 L120,365.5 L118.24,366.63 L118.76,364.6 L117.15,363.27 L119.24,363.15ZM124.7,359.4 L125.46,361.35 L127.55,361.47 L125.94,362.8 L126.46,364.83 L124.7,363.7 L122.94,364.83 L123.46,362.8 L121.85,361.47 L123.94,361.35ZM129.9,359.8 L130.66,361.75 L132.75,361.87 L131.14,363.2 L131.66,365.23 L129.9,364.1 L128.14,365.23 L128.66,363.2 L127.05,361.87 L129.14,361.75ZM135.2,364.6 L135.96,366.55 L138.05,366.67 L136.44,368 L136.96,370.03 L135.2,368.9 L133.44,370.03 L133.96,368 L132.35,366.67 L134.44,366.55ZM140.1,362.9 L140.86,364.85 L142.95,364.97 L141.34,366.3 L141.86,368.33 L140.1,367.2 L138.34,368.33 L138.86,366.3 L137.25,364.97 L139.34,364.85ZM146.5,366.9 L147.26,368.85 L149.35,368.97 L147.74,370.3 L148.26,372.33 L146.5,371.2 L144.74,372.33 L145.26,370.3 L143.65,368.97 L145.74,368.85ZM153.6,370.7 L154.36,372.65 L156.45,372.77 L154.84,374.1 L155.36,376.13 L153.6,375 L151.84,376.13 L152.36,374.1 L150.75,372.77 L152.84,372.65ZM164.2,373.1 L164.96,375.05 L167.05,375.17 L165.44,376.5 L165.96,378.53 L164.2,377.4 L162.44,378.53 L162.96,376.5 L161.35,375.17 L163.44,375.05ZM194.5,372.4 L195.26,374.35 L197.35,374.47 L195.74,375.8 L196.26,377.83 L194.5,376.7 L192.74,377.83 L193.26,375.8 L191.65,374.47 L193.74,374.35ZM205.1,372.4 L205.86,374.35 L207.95,374.47 L206.34,375.8 L206.86,377.83 L205.1,376.7 L203.34,377.83 L203.86,375.8 L202.25,374.47 L204.34,374.35ZM211.7,372.4 L212.46,374.35 L214.55,374.47 L212.94,375.8 L213.46,377.83 L211.7,376.7 L209.94,377.83 L210.46,375.8 L208.85,374.47 L210.94,374.35ZM218.6,363.6 L219.36,365.55 L221.45,365.67 L219.84,367 L220.36,369.03 L218.6,367.9 L216.84,369.03 L217.36,367 L215.75,365.67 L217.84,365.55ZM224.7,365.3 L225.46,367.25 L227.55,367.37 L225.94,368.7 L226.46,370.73 L224.7,369.6 L222.94,370.73 L223.46,368.7 L221.85,367.37 L223.94,367.25ZM229.5,358.9 L230.26,360.85 L232.35,360.97 L230.74,362.3 L231.26,364.33 L229.5,363.2 L227.74,364.33 L228.26,362.3 L226.65,360.97 L228.74,360.85ZM234.7,354.6 L235.46,356.55 L237.55,356.67 L235.94,358 L236.46,360.03 L234.7,358.9 L232.94,360.03 L233.46,358 L231.85,356.67 L233.94,356.55ZM239.4,361.2 L240.16,363.15 L242.25,363.27 L240.64,364.6 L241.16,366.63 L239.4,365.5 L237.64,366.63 L238.16,364.6 L236.55,363.27 L238.64,363.15ZM244.6,353.4 L245.36,355.35 L247.45,355.47 L245.84,356.8 L246.36,358.83 L244.6,357.7 L242.84,358.83 L243.36,356.8 L241.75,355.47 L243.84,355.35ZM249.6,360.5 L250.36,362.45 L252.45,362.57 L250.84,363.9 L251.36,365.93 L249.6,364.8 L247.84,365.93 L248.36,363.9 L246.75,362.57 L248.84,362.45ZM254.8,360.5 L255.56,362.45 L257.65,362.57 L256.04,363.9 L256.56,365.93 L254.8,364.8 L253.04,365.93 L253.56,363.9 L251.95,362.57 L254.04,362.45ZM260.2,360.5 L260.96,362.45 L263.05,362.57 L261.44,363.9 L261.96,365.93 L260.2,364.8 L258.44,365.93 L258.96,363.9 L257.35,362.57 L259.44,362.45ZM264.9,362.9 L265.66,364.85 L267.75,364.97 L266.14,366.3 L266.66,368.33 L264.9,367.2 L263.14,368.33 L263.66,366.3 L262.05,364.97 L264.14,364.85ZM270.6,367.6 L271.36,369.55 L273.45,369.67 L271.84,371 L272.36,373.03 L270.6,371.9 L268.84,373.03 L269.36,371 L267.75,369.67 L269.84,369.55ZM277.2,366 L277.96,367.95 L280.05,368.07 L278.44,369.4 L278.96,371.43 L277.2,370.3 L275.44,371.43 L275.96,369.4 L274.35,368.07 L276.44,367.95ZM286.7,367.6 L287.46,369.55 L289.55,369.67 L287.94,371 L288.46,373.03 L286.7,371.9 L284.94,373.03 L285.46,371 L283.85,369.67 L285.94,369.55ZM299.7,370.7 L300.46,372.65 L302.55,372.77 L300.94,374.1 L301.46,376.13 L299.7,375 L297.94,376.13 L298.46,374.1 L296.85,372.77 L298.94,372.65ZM307.1,364.4 L307.86,366.35 L309.95,366.47 L308.34,367.8 L308.86,369.83 L307.1,368.7 L305.34,369.83 L305.86,367.8 L304.25,366.47 L306.34,366.35ZM312.5,368.3 L313.26,370.25 L315.35,370.37 L313.74,371.7 L314.26,373.73 L312.5,372.6 L310.74,373.73 L311.26,371.7 L309.65,370.37 L311.74,370.25ZM325.7,368.3 L326.46,370.25 L328.55,370.37 L326.94,371.7 L327.46,373.73 L325.7,372.6 L323.94,373.73 L324.46,371.7 L322.85,370.37 L324.94,370.25ZM335.2,374.7 L335.96,376.65 L338.05,376.77 L336.44,378.1 L336.96,380.13 L335.2,379 L333.44,380.13 L333.96,378.1 L332.35,376.77 L334.44,376.65ZM342.3,367.6 L343.06,369.55 L345.15,369.67 L343.54,371 L344.06,373.03 L342.3,371.9 L340.54,373.03 L341.06,371 L339.45,369.67 L341.54,369.55ZM348.7,366 L349.46,367.95 L351.55,368.07 L349.94,369.4 L350.46,371.43 L348.7,370.3 L346.94,371.43 L347.46,369.4 L345.85,368.07 L347.94,367.95ZM353.9,361.2 L354.66,363.15 L356.75,363.27 L355.14,364.6 L355.66,366.63 L353.9,365.5 L352.14,366.63 L352.66,364.6 L351.05,363.27 L353.14,363.15ZM358.6,358.2 L359.36,360.15 L361.45,360.27 L359.84,361.6 L360.36,363.63 L358.6,362.5 L356.84,363.63 L357.36,361.6 L355.75,360.27 L357.84,360.15ZM363.6,362.2 L364.36,364.15 L366.45,364.27 L364.84,365.6 L365.36,367.63 L363.6,366.5 L361.84,367.63 L362.36,365.6 L360.75,364.27 L362.84,364.15ZM368.8,355.8 L369.56,357.75 L371.65,357.87 L370.04,359.2 L370.56,361.23 L368.8,360.1 L367.04,361.23 L367.56,359.2 L365.95,357.87 L368.04,357.75ZM374.2,361.2 L374.96,363.15 L377.05,363.27 L375.44,364.6 L375.96,366.63 L374.2,365.5 L372.44,366.63 L372.96,364.6 L371.35,363.27 L373.44,363.15ZM379.4,358.2 L380.16,360.15 L382.25,360.27 L380.64,361.6 L381.16,363.63 L379.4,362.5 L377.64,363.63 L378.16,361.6 L376.55,360.27 L378.64,360.15ZM384.1,358.9 L384.86,360.85 L386.95,360.97 L385.34,362.3 L385.86,364.33 L384.1,363.2 L382.34,364.33 L382.86,362.3 L381.25,360.97 L383.34,360.85ZM389.3,361.2 L390.06,363.15 L392.15,363.27 L390.54,364.6 L391.06,366.63 L389.3,365.5 L387.54,366.63 L388.06,364.6 L386.45,363.27 L388.54,363.15ZM394.3,367.6 L395.06,369.55 L397.15,369.67 L395.54,371 L396.06,373.03 L394.3,371.9 L392.54,373.03 L393.06,371 L391.45,369.67 L393.54,369.55ZM400.7,364.6 L401.46,366.55 L403.55,366.67 L401.94,368 L402.46,370.03 L400.7,368.9 L398.94,370.03 L399.46,368 L397.85,366.67 L399.94,366.55ZM409,361.2 L409.76,363.15 L411.85,363.27 L410.24,364.6 L410.76,366.63 L409,365.5 L407.24,366.63 L407.76,364.6 L406.15,363.27 L408.24,363.15ZM418.4,375.4 L419.16,377.35 L421.25,377.47 L419.64,378.8 L420.16,380.83 L418.4,379.7 L416.64,380.83 L417.16,378.8 L415.55,377.47 L417.64,377.35ZM447.5,373.5 L448.26,375.45 L450.35,375.57 L448.74,376.9 L449.26,378.93 L447.5,377.8 L445.74,378.93 L446.26,376.9 L444.65,375.57 L446.74,375.45ZM458.6,378.7 L459.36,380.65 L461.45,380.77 L459.84,382.1 L460.36,384.13 L458.6,383 L456.84,384.13 L457.36,382.1 L455.75,380.77 L457.84,380.65ZM465.7,364.1 L466.46,366.05 L468.55,366.17 L466.94,367.5 L467.46,369.53 L465.7,368.4 L463.94,369.53 L464.46,367.5 L462.85,366.17 L464.94,366.05ZM472.3,355.1 L473.06,357.05 L475.15,357.17 L473.54,358.5 L474.06,360.53 L472.3,359.4 L470.54,360.53 L471.06,358.5 L469.45,357.17 L471.54,357.05ZM478.2,361.2 L478.96,363.15 L481.05,363.27 L479.44,364.6 L479.96,366.63 L478.2,365.5 L476.44,366.63 L476.96,364.6 L475.35,363.27 L477.44,363.15ZM483.7,361.7 L484.46,363.65 L486.55,363.77 L484.94,365.1 L485.46,367.13 L483.7,366 L481.94,367.13 L482.46,365.1 L480.85,363.77 L482.94,363.65ZM488.9,363.6 L489.66,365.55 L491.75,365.67 L490.14,367 L490.66,369.03 L488.9,367.9 L487.14,369.03 L487.66,367 L486.05,365.67 L488.14,365.55ZM494.1,362.9 L494.86,364.85 L496.95,364.97 L495.34,366.3 L495.86,368.33 L494.1,367.2 L492.34,368.33 L492.86,366.3 L491.25,364.97 L493.34,364.85ZM498.8,359.8 L499.56,361.75 L501.65,361.87 L500.04,363.2 L500.56,365.23 L498.8,364.1 L497.04,365.23 L497.56,363.2 L495.95,361.87 L498.04,361.75ZM503.5,359.4 L504.26,361.35 L506.35,361.47 L504.74,362.8 L505.26,364.83 L503.5,363.7 L501.74,364.83 L502.26,362.8 L500.65,361.47 L502.74,361.35ZM508.5,363.6 L509.26,365.55 L511.35,365.67 L509.74,367 L510.26,369.03 L508.5,367.9 L506.74,369.03 L507.26,367 L505.65,365.67 L507.74,365.55ZM513.7,361.2 L514.46,363.15 L516.55,363.27 L514.94,364.6 L515.46,366.63 L513.7,365.5 L511.94,366.63 L512.46,364.6 L510.85,363.27 L512.94,363.15ZM519.1,361.2 L519.86,363.15 L521.95,363.27 L520.34,364.6 L520.86,366.63 L519.1,365.5 L517.34,366.63 L517.86,364.6 L516.25,363.27 L518.34,363.15ZM524.3,362.9 L525.06,364.85 L527.15,364.97 L525.54,366.3 L526.06,368.33 L524.3,367.2 L522.54,368.33 L523.06,366.3 L521.45,364.97 L523.54,364.85ZM531.4,363.6 L532.16,365.55 L534.25,365.67 L532.64,367 L533.16,369.03 L531.4,367.9 L529.64,369.03 L530.16,367 L528.55,365.67 L530.64,365.55Z" fill="#222" stroke="#222" stroke-width="0.5"/>
</g>
<path d="M65.8,302.4L77,302.38M157.3,302.32L169.2,302.3" stroke="#999" stroke-width="1" fill="none"/>
<path d="M58.2,302.4 L65.8,300.1 Q65,302.4 65.8,304.7Z" fill="#000"/>
<path d="M177.1,302.3 L169.2,300 Q170,302.3 169.2,304.6Z" fill="#000"/>
<text x="78.8" y="304.6" textLength="64.1" lengthAdjust="spacingAndGlyphs" class="an" style="font-size:8.15px">Number of peak:17</text>
<path d="M189.8,302.5L201.1,302.5M283.7,302.5L294.3,302.5" stroke="#999" stroke-width="1" fill="none"/>
<path d="M183,302.5 L189.8,300.2 Q189,302.5 189.8,304.8Z" fill="#000"/>
<path d="M303.1,302.5 L294.3,300.2 Q295.1,302.5 294.3,304.8Z" fill="#000"/>
<text x="204.1" y="305" textLength="64.9" lengthAdjust="spacingAndGlyphs" class="an" style="font-size:8.25px">Number of peak:17</text>
<path d="M317.9,302.5L331,302.58M412.8,302.92L424.9,303" stroke="#999" stroke-width="1" fill="none"/>
<path d="M310.2,302.5 L317.9,300.2 Q317.1,302.5 317.9,304.8Z" fill="#000"/>
<path d="M432.7,303 L424.9,300.7 Q425.7,303 424.9,305.3Z" fill="#000"/>
<text x="333.5" y="305.7" textLength="76.3" lengthAdjust="spacingAndGlyphs" class="an" style="font-size:9.7px">Number of peak:17</text>
<path d="M443.8,303.2L445.6,303.18M527.5,303.02L529,303" stroke="#999" stroke-width="1" fill="none"/>
<path d="M436.6,303.2 L443.8,300.9 Q443,303.2 443.8,305.5Z" fill="#000"/>
<path d="M535.2,303 L529,300.7 Q529.8,303 529,305.3Z" fill="#000"/>
<text x="448.1" y="306.5" textLength="76.4" lengthAdjust="spacingAndGlyphs" class="an" style="font-size:9.71px">Number of peak:15</text>
<path d="M63.9,385.6L74.4,385.74M159,386.37L167.9,386.5" stroke="#999" stroke-width="1" fill="none"/>
<path d="M56,385.6 L63.9,383.3 Q63.1,385.6 63.9,387.9Z" fill="#000"/>
<path d="M176.1,386.5 L167.9,384.2 Q168.7,386.5 167.9,388.8Z" fill="#000"/>
<text x="76.9" y="389" textLength="81.6" lengthAdjust="spacingAndGlyphs" class="an" style="font-size:9.84px">Number of valley:17</text>
<path d="M191.1,385.9L201.6,386.04M287.9,386.69L294.9,386.8" stroke="#999" stroke-width="1" fill="none"/>
<path d="M183,385.9 L191.1,383.6 Q190.3,385.9 191.1,388.2Z" fill="#000"/>
<path d="M302.8,386.8 L294.9,384.5 Q295.7,386.8 294.9,389.1Z" fill="#000"/>
<text x="204.1" y="389" textLength="80.8" lengthAdjust="spacingAndGlyphs" class="an" style="font-size:9.75px">Number of valley:17</text>
<path d="M316.8,386.2L329.1,386.25M416.1,386.46L423.9,386.5" stroke="#999" stroke-width="1" fill="none"/>
<path d="M309,386.2 L316.8,383.9 Q316,386.2 316.8,388.5Z" fill="#000"/>
<path d="M431.7,386.5 L423.9,384.2 Q424.7,386.5 423.9,388.8Z" fill="#000"/>
<text x="331.6" y="388.5" textLength="81.5" lengthAdjust="spacingAndGlyphs" class="an" style="font-size:9.83px">Number of valley:17</text>
<path d="M442.2,383.2L444.9,383.24M532.6,383.58L530.6,383.6" stroke="#999" stroke-width="1" fill="none"/>
<path d="M435,383.2 L442.2,380.9 Q441.4,383.2 442.2,385.5Z" fill="#000"/>
<path d="M536.8,383.6 L530.6,381.3 Q531.4,383.6 530.6,385.9Z" fill="#000"/>
<text x="447.4" y="387" textLength="82.2" lengthAdjust="spacingAndGlyphs" class="an" style="font-size:9.92px">Number of valley:15</text>
<rect x="54.3" y="294.8" width="482.2" height="97.6" fill="none" stroke="#000" stroke-width="1.5"/>
<path d="M54.3,388.58h2.8M536.5,388.58h-2.8M54.3,381.1h5.6M536.5,381.1h-5.6M54.3,373.62h2.8M536.5,373.62h-2.8M54.3,366.14h5.6M536.5,366.14h-5.6M54.3,358.66h2.8M536.5,358.66h-2.8M54.3,351.18h5.6M536.5,351.18h-5.6M54.3,343.7h2.8M536.5,343.7h-2.8M54.3,336.22h5.6M536.5,336.22h-5.6M54.3,328.74h2.8M536.5,328.74h-2.8M54.3,321.26h5.6M536.5,321.26h-5.6M54.3,313.78h2.8M536.5,313.78h-2.8M54.3,306.3h5.6M536.5,306.3h-5.6M54.3,298.82h2.8M536.5,298.82h-2.8M181.2,392.4v-5.6M181.2,294.8v5.6M308.5,392.4v-5.6M308.5,294.8v5.6M435.5,392.4v-5.6M435.5,294.8v5.6M117.8,392.4v-2.9M117.8,294.8v2.9M245,392.4v-2.9M245,294.8v2.9M371.5,392.4v-2.9M371.5,294.8v2.9M486.2,392.4v-2.9M486.2,294.8v2.9" stroke="#000" stroke-width="1.3" fill="none"/>
<text x="47.2" y="385.1" text-anchor="end" class="tl">0.0</text>
<text x="47.2" y="370.14" text-anchor="end" class="tl">0.2</text>
<text x="47.2" y="355.18" text-anchor="end" class="tl">0.4</text>
<text x="47.2" y="340.22" text-anchor="end" class="tl">0.6</text>
<text x="47.2" y="325.26" text-anchor="end" class="tl">0.8</text>
<text x="47.2" y="310.3" text-anchor="end" class="tl">1.0</text>
<text x="52.9" y="405.2" text-anchor="middle" class="xt">0.00</text>
<text x="179.8" y="405.2" text-anchor="middle" class="xt">0.05</text>
<text x="307" y="405.2" text-anchor="middle" class="xt">0.10</text>
<text x="434.2" y="405.2" text-anchor="middle" class="xt">0.15</text>
<text x="536.5" y="405.2" text-anchor="middle" class="xt">0.19</text>
<text x="307.5" y="413.9" text-anchor="middle" class="tt">Time(s)</text>
<text x="306.8" y="426" text-anchor="middle" class="tl">(c)</text>
<text transform="translate(10.7,349.9) rotate(-90)" text-anchor="middle" class="yl">Normalized</text>
<text transform="translate(24.3,349.9) rotate(-90)" text-anchor="middle" class="yl">Intensity of SMI (a.u.)</text>
</svg>
</body></html>
